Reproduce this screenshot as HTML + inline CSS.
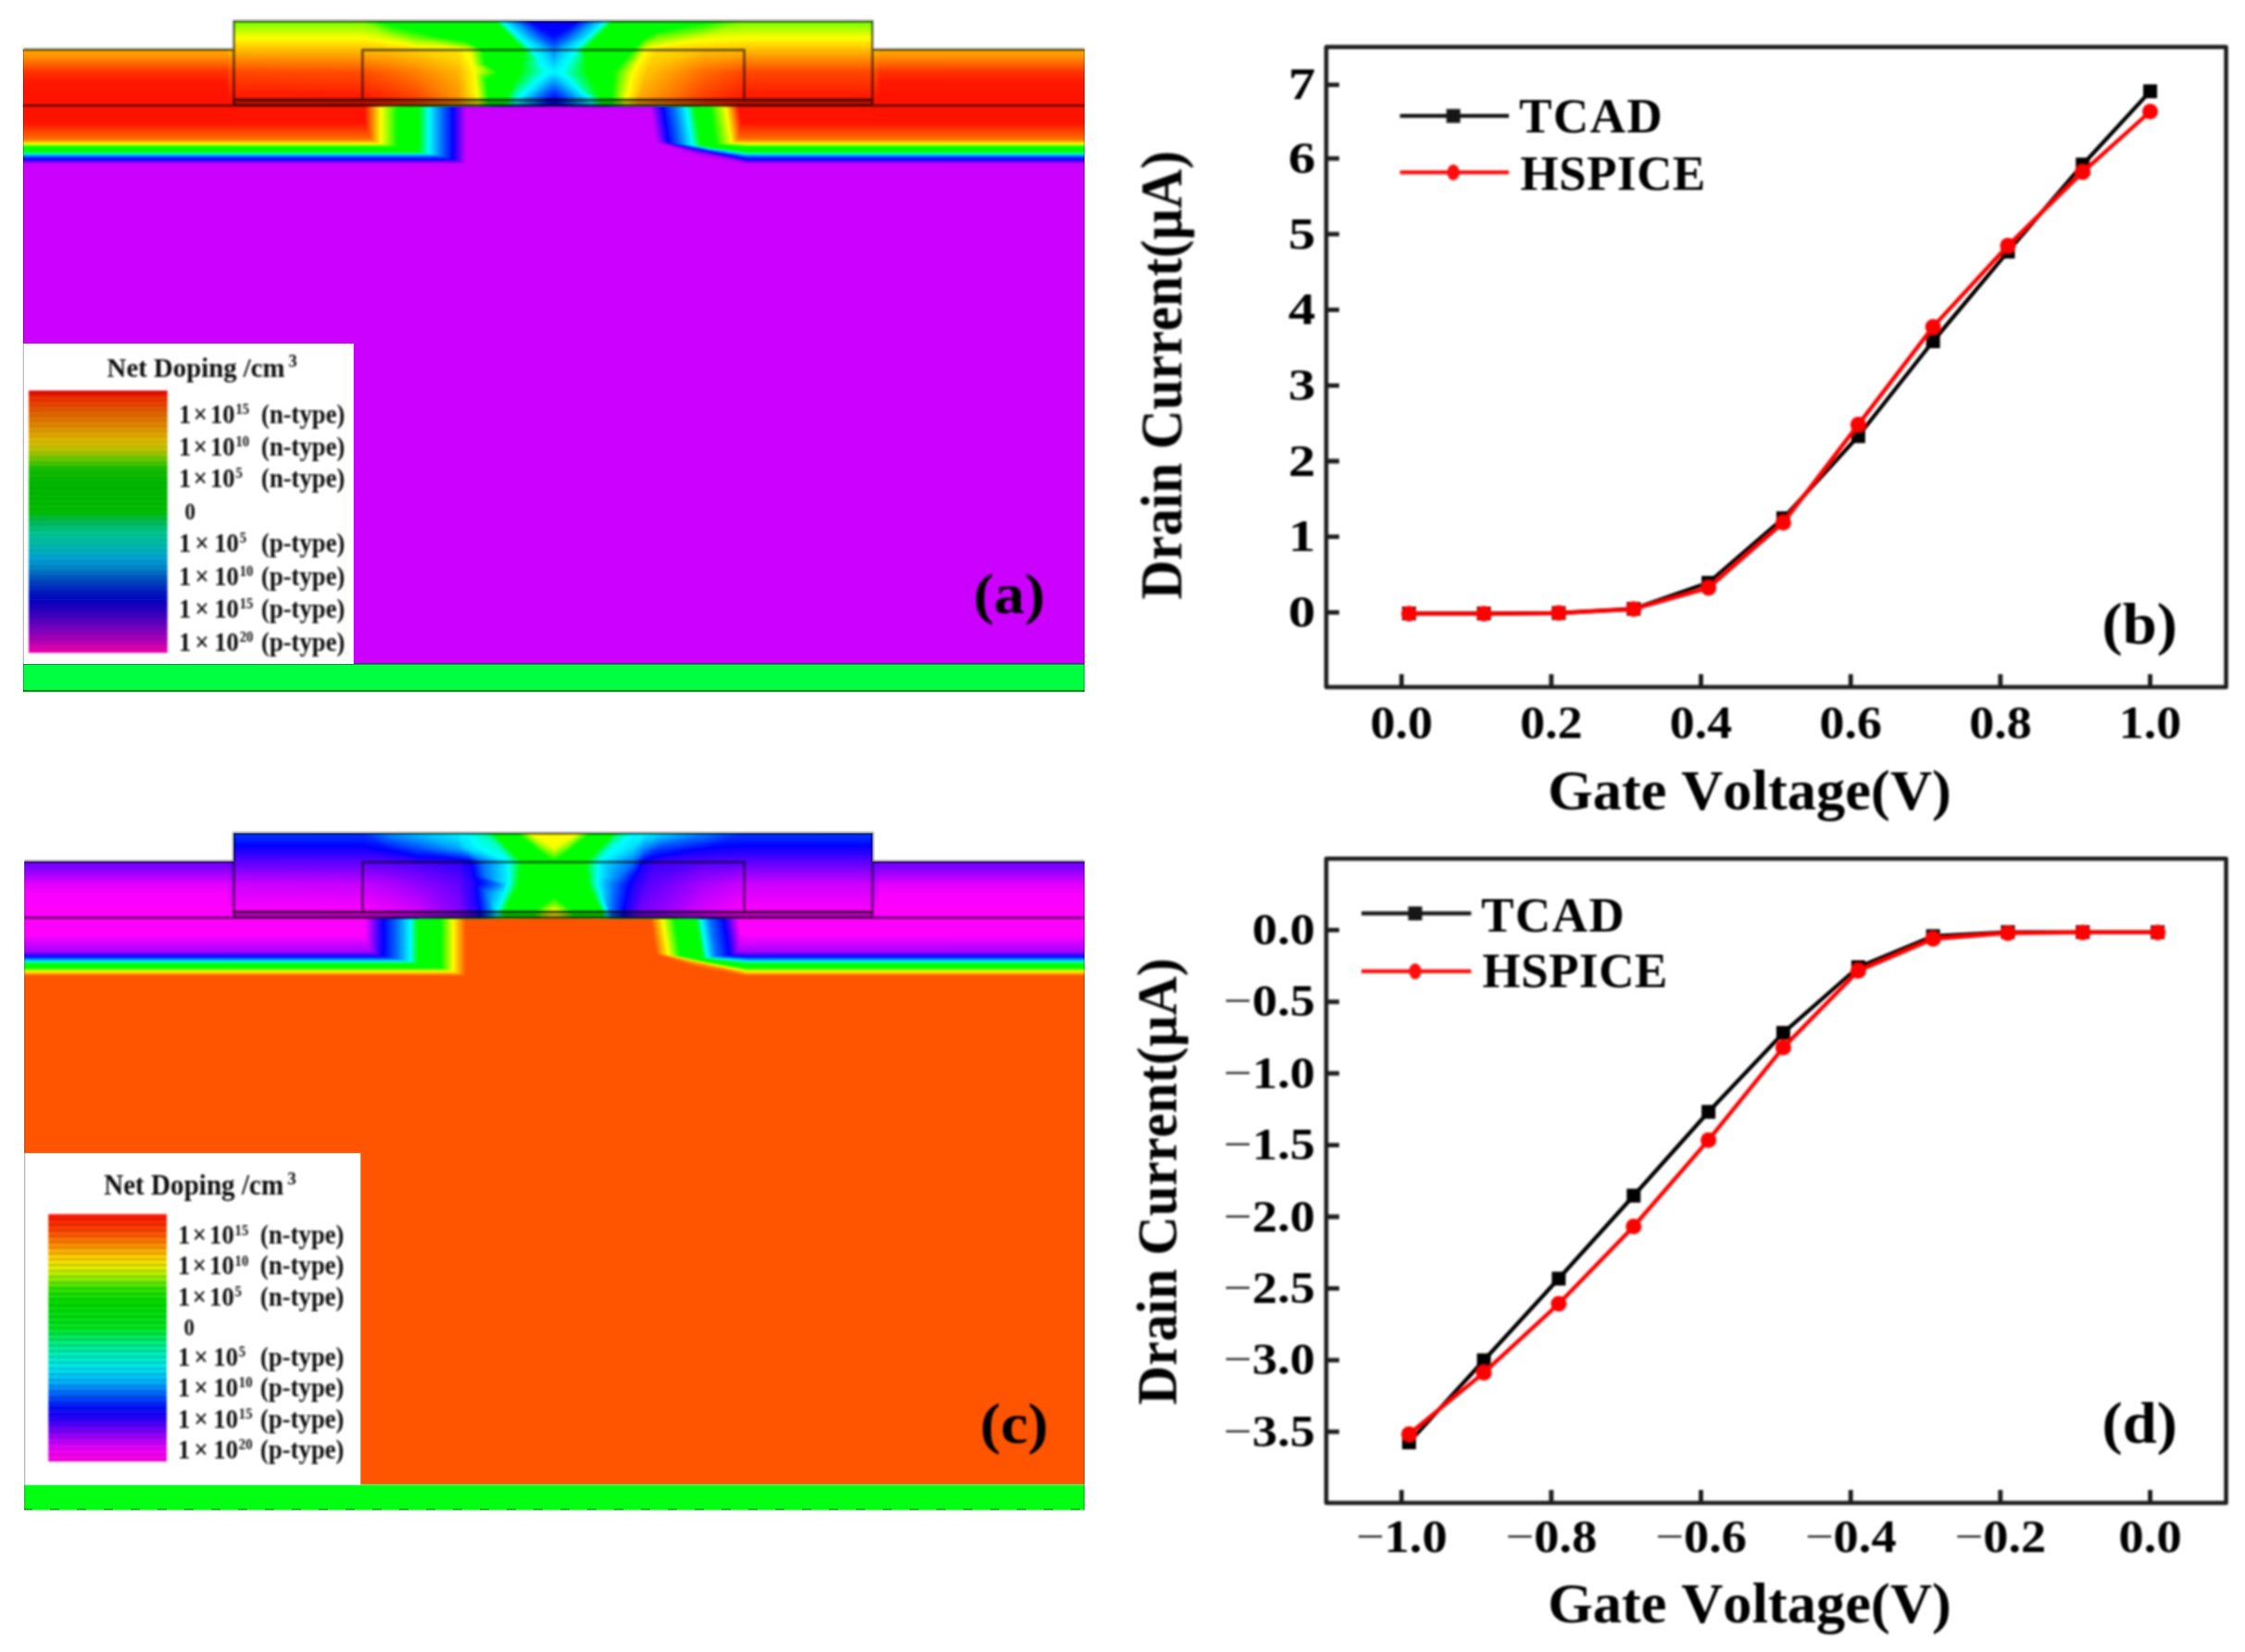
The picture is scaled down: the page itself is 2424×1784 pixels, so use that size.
<!DOCTYPE html><html><head><meta charset="utf-8"><title>Figure</title><style>html,body{margin:0;padding:0;background:#fff}svg{display:block}text{font-family:"Liberation Serif",serif;font-weight:bold;font-kerning:none}</style></head><body><svg width="2424" height="1784" viewBox="0 0 2424 1784"><defs><filter id="cmA" filterUnits="userSpaceOnUse" x="0" y="0" width="1200" height="200" color-interpolation-filters="sRGB"><feComponentTransfer><feFuncR type="table" tableValues="1.000 1.000 1.000 1.000 1.000 1.000 1.000 1.000 1.000 1.000 1.000 1.000 1.000 1.000 1.000 1.000 1.000 0.929 0.857 0.786 0.714 0.643 0.571 0.500 0.429 0.357 0.286 0.214 0.143 0.071 0.000 0.000 0.000 0.000 0.000 0.000 0.000 0.000 0.000 0.000 0.000 0.000 0.000 0.000 0.000 0.000 0.000 0.000 0.000 0.000 0.000 0.000 0.000 0.000 0.000 0.000 0.000 0.000 0.000 0.000 0.000 0.000 0.000 0.000 0.000 0.000 0.000 0.000 0.000 0.000 0.000 0.000 0.000 0.000 0.000 0.000 0.000 0.000 0.000 0.000 0.000 0.000 0.000 0.000 0.000 0.000 0.000 0.000 0.062 0.123 0.185 0.246 0.308 0.369 0.431 0.492 0.554 0.615 0.677 0.738 0.800"/><feFuncG type="table" tableValues="0.078 0.136 0.194 0.251 0.309 0.366 0.424 0.482 0.539 0.597 0.654 0.712 0.770 0.827 0.885 0.942 1.000 1.000 1.000 1.000 1.000 1.000 1.000 1.000 1.000 1.000 1.000 1.000 1.000 1.000 1.000 1.000 1.000 1.000 1.000 1.000 1.000 1.000 1.000 1.000 1.000 1.000 1.000 1.000 1.000 1.000 1.000 1.000 1.000 1.000 1.000 1.000 1.000 1.000 1.000 1.000 1.000 1.000 1.000 1.000 1.000 1.000 1.000 1.000 1.000 0.957 0.913 0.870 0.826 0.783 0.739 0.696 0.652 0.609 0.565 0.522 0.478 0.435 0.391 0.348 0.304 0.261 0.217 0.174 0.130 0.087 0.043 0.000 0.000 0.000 0.000 0.000 0.000 0.000 0.000 0.000 0.000 0.000 0.000 0.000 0.000"/><feFuncB type="table" tableValues="0.000 0.000 0.000 0.000 0.000 0.000 0.000 0.000 0.000 0.000 0.000 0.000 0.000 0.000 0.000 0.000 0.000 0.000 0.000 0.000 0.000 0.000 0.000 0.000 0.000 0.000 0.000 0.000 0.000 0.000 0.000 0.000 0.000 0.000 0.000 0.000 0.000 0.000 0.000 0.000 0.000 0.000 0.000 0.000 0.000 0.000 0.000 0.000 0.000 0.000 0.000 0.000 0.000 0.000 0.000 0.000 0.000 0.125 0.250 0.375 0.500 0.625 0.750 0.875 1.000 1.000 1.000 1.000 1.000 1.000 1.000 1.000 1.000 1.000 1.000 1.000 1.000 1.000 1.000 1.000 1.000 1.000 1.000 1.000 1.000 1.000 1.000 1.000 1.000 1.000 1.000 1.000 1.000 1.000 1.000 1.000 1.000 1.000 1.000 1.000 1.000"/></feComponentTransfer><feGaussianBlur stdDeviation="1.1"/></filter><filter id="cmC" filterUnits="userSpaceOnUse" x="0" y="0" width="1200" height="200" color-interpolation-filters="sRGB"><feComponentTransfer><feFuncR type="table" tableValues="1.000 0.944 0.889 0.833 0.778 0.722 0.667 0.611 0.556 0.500 0.444 0.389 0.333 0.278 0.222 0.167 0.111 0.056 0.000 0.000 0.000 0.000 0.000 0.000 0.000 0.000 0.000 0.000 0.000 0.000 0.000 0.000 0.000 0.000 0.000 0.000 0.000 0.000 0.000 0.000 0.000 0.000 0.000 0.000 0.000 0.000 0.000 0.000 0.000 0.000 0.000 0.000 0.000 0.000 0.000 0.000 0.000 0.000 0.000 0.000 0.000 0.000 0.000 0.000 0.000 0.000 0.000 0.000 0.000 0.000 0.000 0.000 0.000 0.000 0.000 0.000 0.000 0.091 0.182 0.273 0.364 0.455 0.545 0.636 0.727 0.818 0.909 1.000 1.000 1.000 1.000 1.000 1.000 1.000 1.000 1.000 1.000 1.000 1.000 1.000 1.000"/><feFuncG type="table" tableValues="0.000 0.000 0.000 0.000 0.000 0.000 0.000 0.000 0.000 0.000 0.000 0.000 0.000 0.000 0.000 0.000 0.000 0.000 0.000 0.038 0.077 0.115 0.154 0.192 0.231 0.269 0.308 0.346 0.385 0.423 0.462 0.500 0.538 0.577 0.615 0.654 0.692 0.731 0.769 0.808 0.846 0.885 0.923 0.962 1.000 1.000 1.000 1.000 1.000 1.000 1.000 1.000 1.000 1.000 1.000 1.000 1.000 1.000 1.000 1.000 1.000 1.000 1.000 1.000 1.000 1.000 1.000 1.000 1.000 1.000 1.000 1.000 1.000 1.000 1.000 1.000 1.000 1.000 1.000 1.000 1.000 1.000 1.000 1.000 1.000 1.000 1.000 1.000 0.949 0.897 0.846 0.795 0.744 0.692 0.641 0.590 0.538 0.487 0.436 0.385 0.333"/><feFuncB type="table" tableValues="1.000 1.000 1.000 1.000 1.000 1.000 1.000 1.000 1.000 1.000 1.000 1.000 1.000 1.000 1.000 1.000 1.000 1.000 1.000 1.000 1.000 1.000 1.000 1.000 1.000 1.000 1.000 1.000 1.000 1.000 1.000 1.000 1.000 1.000 1.000 1.000 1.000 1.000 1.000 1.000 1.000 1.000 1.000 1.000 1.000 0.909 0.818 0.727 0.636 0.545 0.455 0.364 0.273 0.182 0.091 0.000 0.000 0.000 0.000 0.000 0.000 0.000 0.000 0.000 0.000 0.000 0.000 0.000 0.000 0.000 0.000 0.000 0.000 0.000 0.000 0.000 0.000 0.000 0.000 0.000 0.000 0.000 0.000 0.000 0.000 0.000 0.000 0.000 0.000 0.000 0.000 0.000 0.000 0.000 0.000 0.000 0.000 0.000 0.000 0.000 0.000"/></feComponentTransfer><feGaussianBlur stdDeviation="1.1"/></filter><linearGradient id="bw"><stop offset="0" stop-color="#000"/><stop offset="1" stop-color="#fff"/></linearGradient><linearGradient id="fslab" gradientUnits="userSpaceOnUse" x1="0" y1="48" x2="0" y2="114"><stop offset="0.0000" stop-color="#1b1b1b"/><stop offset="0.0833" stop-color="#1a1a1a"/><stop offset="0.1970" stop-color="#161616"/><stop offset="0.3333" stop-color="#0d0d0d"/><stop offset="0.4545" stop-color="#050505"/><stop offset="0.6061" stop-color="#010101"/><stop offset="0.7879" stop-color="#000000"/><stop offset="1.0000" stop-color="#000000"/></linearGradient><linearGradient id="fv" gradientUnits="userSpaceOnUse" x1="0" y1="113" x2="0" y2="186"><stop offset="0.0000" stop-color="#000000"/><stop offset="0.2740" stop-color="#000000"/><stop offset="0.5137" stop-color="#101010"/><stop offset="0.5822" stop-color="#292929"/><stop offset="0.6233" stop-color="#4c4c4c"/><stop offset="0.6781" stop-color="#808080"/><stop offset="0.7219" stop-color="#9e9e9e"/><stop offset="0.7603" stop-color="#c2c2c2"/><stop offset="0.8055" stop-color="#dedede"/><stop offset="0.8740" stop-color="#ffffff"/><stop offset="1.0000" stop-color="#ffffff"/></linearGradient><linearGradient id="fhl" gradientUnits="userSpaceOnUse" x1="19.0" y1="0" x2="600" y2="0"><stop offset="0.0000" stop-color="#000000"/><stop offset="0.6454" stop-color="#000000"/><stop offset="0.6747" stop-color="#292929"/><stop offset="0.6799" stop-color="#2e2e2e"/><stop offset="0.7057" stop-color="#4c4c4c"/><stop offset="0.7298" stop-color="#707070"/><stop offset="0.7453" stop-color="#8f8f8f"/><stop offset="0.7642" stop-color="#a3a3a3"/><stop offset="0.7866" stop-color="#c2c2c2"/><stop offset="0.8090" stop-color="#dedede"/><stop offset="0.8330" stop-color="#ffffff"/><stop offset="1.0000" stop-color="#ffffff"/></linearGradient><linearGradient id="fhr" gradientUnits="userSpaceOnUse" x1="600" y1="132" x2="1162.96" y2="43.11"><stop offset="0.0000" stop-color="#ffffff"/><stop offset="0.1820" stop-color="#ffffff"/><stop offset="0.2045" stop-color="#dedede"/><stop offset="0.2270" stop-color="#c2c2c2"/><stop offset="0.2487" stop-color="#a3a3a3"/><stop offset="0.2652" stop-color="#8f8f8f"/><stop offset="0.2773" stop-color="#707070"/><stop offset="0.2929" stop-color="#4c4c4c"/><stop offset="0.3189" stop-color="#2e2e2e"/><stop offset="0.3224" stop-color="#292929"/><stop offset="0.3466" stop-color="#000000"/><stop offset="1.0000" stop-color="#000000"/></linearGradient><filter id="fblur1" filterUnits="userSpaceOnUse" x="600" y="100" width="300" height="100" color-interpolation-filters="sRGB"><feGaussianBlur stdDeviation="0.8"/></filter><linearGradient id="m1" href="#bw" gradientUnits="userSpaceOnUse" x1="246.50" y1="77.40" x2="246.50" y2="-149.27"/><linearGradient id="m2" href="#bw" gradientUnits="userSpaceOnUse" x1="246.50" y1="77.40" x2="246.50" y2="-149.27"/><linearGradient id="m3" href="#bw" gradientUnits="userSpaceOnUse" x1="246.50" y1="86.20" x2="246.50" y2="-193.80"/><linearGradient id="m4" href="#bw" gradientUnits="userSpaceOnUse" x1="246.50" y1="86.20" x2="246.50" y2="-193.80"/><linearGradient id="m5" href="#bw" gradientUnits="userSpaceOnUse" x1="246.50" y1="88.50" x2="246.50" y2="-211.50"/><linearGradient id="m6" href="#bw" gradientUnits="userSpaceOnUse" x1="246.50" y1="88.50" x2="246.50" y2="-211.50"/><linearGradient id="m7" href="#bw" gradientUnits="userSpaceOnUse" x1="246.50" y1="88.50" x2="246.50" y2="-211.50"/><linearGradient id="m8" href="#bw" gradientUnits="userSpaceOnUse" x1="246.50" y1="88.50" x2="246.50" y2="-211.50"/><linearGradient id="m9" href="#bw" gradientUnits="userSpaceOnUse" x1="246.50" y1="107.50" x2="246.50" y2="-735.36"/><linearGradient id="m10" href="#bw" gradientUnits="userSpaceOnUse" x1="246.50" y1="107.50" x2="246.50" y2="-735.36"/><linearGradient id="m11" href="#bw" gradientUnits="userSpaceOnUse" x1="246.50" y1="107.50" x2="246.50" y2="-735.36"/><linearGradient id="m12" href="#bw" gradientUnits="userSpaceOnUse" x1="246.50" y1="107.50" x2="246.50" y2="-735.36"/><linearGradient id="m13" href="#bw" gradientUnits="userSpaceOnUse" x1="252.50" y1="77.40" x2="252.50" y2="-149.27"/><linearGradient id="m14" href="#bw" gradientUnits="userSpaceOnUse" x1="252.50" y1="77.40" x2="252.50" y2="-149.27"/><linearGradient id="m15" href="#bw" gradientUnits="userSpaceOnUse" x1="252.50" y1="86.20" x2="252.50" y2="-193.80"/><linearGradient id="m16" href="#bw" gradientUnits="userSpaceOnUse" x1="252.50" y1="86.20" x2="252.50" y2="-193.80"/><linearGradient id="m17" href="#bw" gradientUnits="userSpaceOnUse" x1="252.50" y1="90.80" x2="252.50" y2="-229.20"/><linearGradient id="m18" href="#bw" gradientUnits="userSpaceOnUse" x1="252.25" y1="88.50" x2="254.41" y2="-211.49"/><linearGradient id="m19" href="#bw" gradientUnits="userSpaceOnUse" x1="252.35" y1="89.73" x2="254.81" y2="-230.25"/><linearGradient id="m20" href="#bw" gradientUnits="userSpaceOnUse" x1="252.30" y1="88.50" x2="255.54" y2="-211.47"/><linearGradient id="m21" href="#bw" gradientUnits="userSpaceOnUse" x1="251.82" y1="103.79" x2="271.38" y2="-633.19"/><linearGradient id="m22" href="#bw" gradientUnits="userSpaceOnUse" x1="251.85" y1="107.49" x2="270.48" y2="-734.96"/><linearGradient id="m23" href="#bw" gradientUnits="userSpaceOnUse" x1="252.14" y1="104.81" x2="266.40" y2="-632.42"/><linearGradient id="m24" href="#bw" gradientUnits="userSpaceOnUse" x1="252.50" y1="107.50" x2="252.50" y2="-735.36"/><linearGradient id="m25" href="#bw" gradientUnits="userSpaceOnUse" x1="315.13" y1="17.00" x2="632.91" y2="17.00"/><linearGradient id="m26" href="#bw" gradientUnits="userSpaceOnUse" x1="315.13" y1="17.00" x2="632.91" y2="17.00"/><linearGradient id="m27" href="#bw" gradientUnits="userSpaceOnUse" x1="381.68" y1="48.43" x2="422.17" y2="-57.53"/><linearGradient id="m28" href="#bw" gradientUnits="userSpaceOnUse" x1="381.03" y1="75.35" x2="424.24" y2="-142.76"/><linearGradient id="m29" href="#bw" gradientUnits="userSpaceOnUse" x1="385.80" y1="72.02" x2="419.73" y2="-122.05"/><linearGradient id="m30" href="#bw" gradientUnits="userSpaceOnUse" x1="389.14" y1="86.09" x2="402.82" y2="-193.24"/><linearGradient id="m31" href="#bw" gradientUnits="userSpaceOnUse" x1="388.67" y1="96.29" x2="412.41" y2="-271.41"/><linearGradient id="m32" href="#bw" gradientUnits="userSpaceOnUse" x1="386.68" y1="90.18" x2="427.75" y2="-224.46"/><linearGradient id="m33" href="#bw" gradientUnits="userSpaceOnUse" x1="387.87" y1="93.47" x2="442.24" y2="-267.57"/><linearGradient id="m34" href="#bw" gradientUnits="userSpaceOnUse" x1="388.00" y1="90.23" x2="440.24" y2="-221.00"/><linearGradient id="m35" href="#bw" gradientUnits="userSpaceOnUse" x1="382.66" y1="102.30" x2="601.21" y2="-505.11"/><linearGradient id="m36" href="#bw" gradientUnits="userSpaceOnUse" x1="381.88" y1="104.02" x2="619.83" y2="-546.43"/><linearGradient id="m37" href="#bw" gradientUnits="userSpaceOnUse" x1="385.30" y1="103.92" x2="594.53" y2="-510.92"/><linearGradient id="m38" href="#bw" gradientUnits="userSpaceOnUse" x1="385.33" y1="105.62" x2="593.60" y2="-567.43"/><linearGradient id="m39" href="#bw" gradientUnits="userSpaceOnUse" x1="391.40" y1="107.50" x2="2774.73" y2="107.50"/><linearGradient id="m40" href="#bw" gradientUnits="userSpaceOnUse" x1="391.40" y1="107.50" x2="2774.73" y2="107.50"/><linearGradient id="m41" href="#bw" gradientUnits="userSpaceOnUse" x1="222.00" y1="17.00" x2="822.00" y2="17.00"/><linearGradient id="m42" href="#bw" gradientUnits="userSpaceOnUse" x1="222.00" y1="17.00" x2="822.00" y2="17.00"/><linearGradient id="m43" href="#bw" gradientUnits="userSpaceOnUse" x1="411.02" y1="64.20" x2="438.23" y2="-60.64"/><linearGradient id="m44" href="#bw" gradientUnits="userSpaceOnUse" x1="410.81" y1="60.84" x2="438.66" y2="-53.83"/><linearGradient id="m45" href="#bw" gradientUnits="userSpaceOnUse" x1="415.09" y1="61.02" x2="440.91" y2="-49.62"/><linearGradient id="m46" href="#bw" gradientUnits="userSpaceOnUse" x1="417.48" y1="77.83" x2="430.75" y2="-121.28"/><linearGradient id="m47" href="#bw" gradientUnits="userSpaceOnUse" x1="412.54" y1="105.28" x2="474.70" y2="-322.04"/><linearGradient id="m48" href="#bw" gradientUnits="userSpaceOnUse" x1="411.28" y1="96.52" x2="483.96" y2="-257.80"/><linearGradient id="m49" href="#bw" gradientUnits="userSpaceOnUse" x1="412.34" y1="101.60" x2="512.25" y2="-310.54"/><linearGradient id="m50" href="#bw" gradientUnits="userSpaceOnUse" x1="413.43" y1="96.69" x2="499.13" y2="-251.45"/><linearGradient id="m51" href="#bw" gradientUnits="userSpaceOnUse" x1="406.77" y1="108.27" x2="647.33" y2="-442.15"/><linearGradient id="m52" href="#bw" gradientUnits="userSpaceOnUse" x1="405.99" y1="109.50" x2="660.80" y2="-463.17"/><linearGradient id="m53" href="#bw" gradientUnits="userSpaceOnUse" x1="409.77" y1="110.06" x2="645.83" y2="-445.13"/><linearGradient id="m54" href="#bw" gradientUnits="userSpaceOnUse" x1="409.53" y1="111.42" x2="651.01" y2="-475.22"/><linearGradient id="m55" href="#bw" gradientUnits="userSpaceOnUse" x1="400.00" y1="107.50" x2="2066.67" y2="107.50"/><linearGradient id="m56" href="#bw" gradientUnits="userSpaceOnUse" x1="400.00" y1="107.50" x2="2066.67" y2="107.50"/><linearGradient id="m57" href="#bw" gradientUnits="userSpaceOnUse" x1="165.00" y1="17.00" x2="915.00" y2="17.00"/><linearGradient id="m58" href="#bw" gradientUnits="userSpaceOnUse" x1="165.00" y1="17.00" x2="915.00" y2="17.00"/><linearGradient id="m59" href="#bw" gradientUnits="userSpaceOnUse" x1="436.07" y1="84.44" x2="472.72" y2="-77.25"/><linearGradient id="m60" href="#bw" gradientUnits="userSpaceOnUse" x1="437.84" y1="69.51" x2="469.85" y2="-52.89"/><linearGradient id="m61" href="#bw" gradientUnits="userSpaceOnUse" x1="447.47" y1="57.59" x2="457.58" y2="-12.76"/><linearGradient id="m62" href="#bw" gradientUnits="userSpaceOnUse" x1="448.87" y1="69.12" x2="453.40" y2="-47.37"/><linearGradient id="m63" href="#bw" gradientUnits="userSpaceOnUse" x1="430.64" y1="138.72" x2="579.59" y2="-512.95"/><linearGradient id="m64" href="#bw" gradientUnits="userSpaceOnUse" x1="435.51" y1="106.75" x2="546.98" y2="-298.99"/><linearGradient id="m65" href="#bw" gradientUnits="userSpaceOnUse" x1="426.71" y1="123.94" x2="676.25" y2="-454.03"/><linearGradient id="m66" href="#bw" gradientUnits="userSpaceOnUse" x1="437.61" y1="106.52" x2="570.41" y2="-284.77"/><linearGradient id="m67" href="#bw" gradientUnits="userSpaceOnUse" x1="405.91" y1="126.04" x2="993.75" y2="-514.46"/><linearGradient id="m68" href="#bw" gradientUnits="userSpaceOnUse" x1="428.50" y1="114.51" x2="715.15" y2="-372.25"/><linearGradient id="m69" href="#bw" gradientUnits="userSpaceOnUse" x1="413.01" y1="120.89" x2="1002.01" y2="-434.77"/><linearGradient id="m70" href="#bw" gradientUnits="userSpaceOnUse" x1="429.91" y1="111.07" x2="749.80" y2="-288.18"/><linearGradient id="m71" href="#bw" gradientUnits="userSpaceOnUse" x1="425.45" y1="107.50" x2="1243.64" y2="107.50"/><linearGradient id="m72" href="#bw" gradientUnits="userSpaceOnUse" x1="425.45" y1="107.50" x2="1243.64" y2="107.50"/><linearGradient id="m73" href="#bw" gradientUnits="userSpaceOnUse" x1="495.00" y1="210.00" x2="495.00" y2="-215.00"/><linearGradient id="m74" href="#bw" gradientUnits="userSpaceOnUse" x1="457.61" y1="59.66" x2="542.59" y2="-23.66"/><linearGradient id="m75" href="#bw" gradientUnits="userSpaceOnUse" x1="489.17" y1="57.22" x2="506.32" y2="6.58"/><linearGradient id="m76" href="#bw" gradientUnits="userSpaceOnUse" x1="491.69" y1="63.95" x2="501.42" y2="-6.50"/><linearGradient id="m77" href="#bw" gradientUnits="userSpaceOnUse" x1="429.26" y1="79.20" x2="882.64" y2="-94.59"/><linearGradient id="m78" href="#bw" gradientUnits="userSpaceOnUse" x1="453.08" y1="76.98" x2="742.17" y2="-81.53"/><linearGradient id="m79" href="#bw" gradientUnits="userSpaceOnUse" x1="456.91" y1="87.08" x2="769.98" y2="-53.28"/><linearGradient id="m80" href="#bw" gradientUnits="userSpaceOnUse" x1="460.66" y1="88.03" x2="742.88" y2="-60.14"/><linearGradient id="m81" href="#bw" gradientUnits="userSpaceOnUse" x1="455.40" y1="78.42" x2="815.36" y2="74.61"/><linearGradient id="m82" href="#bw" gradientUnits="userSpaceOnUse" x1="462.34" y1="86.81" x2="759.22" y2="6.68"/><linearGradient id="m83" href="#bw" gradientUnits="userSpaceOnUse" x1="462.72" y1="90.38" x2="775.47" y2="47.97"/><linearGradient id="m84" href="#bw" gradientUnits="userSpaceOnUse" x1="467.64" y1="92.49" x2="732.71" y2="29.59"/><linearGradient id="m85" href="#bw" gradientUnits="userSpaceOnUse" x1="471.20" y1="107.50" x2="751.20" y2="107.50"/><linearGradient id="m86" href="#bw" gradientUnits="userSpaceOnUse" x1="471.20" y1="107.50" x2="751.20" y2="107.50"/><linearGradient id="m87" href="#bw" gradientUnits="userSpaceOnUse" x1="285.00" y1="17.00" x2="785.00" y2="17.00"/><linearGradient id="m88" href="#bw" gradientUnits="userSpaceOnUse" x1="285.00" y1="17.00" x2="785.00" y2="17.00"/><linearGradient id="m89" href="#bw" gradientUnits="userSpaceOnUse" x1="366.18" y1="129.16" x2="681.68" y2="-112.11"/><linearGradient id="m90" href="#bw" gradientUnits="userSpaceOnUse" x1="414.77" y1="92.00" x2="619.84" y2="-64.82"/><linearGradient id="m91" href="#bw" gradientUnits="userSpaceOnUse" x1="495.37" y1="74.04" x2="519.44" y2="-11.07"/><linearGradient id="m92" href="#bw" gradientUnits="userSpaceOnUse" x1="496.27" y1="57.32" x2="518.10" y2="14.03"/><linearGradient id="m93" href="#bw" gradientUnits="userSpaceOnUse" x1="489.97" y1="56.25" x2="596.01" y2="43.00"/><linearGradient id="m94" href="#bw" gradientUnits="userSpaceOnUse" x1="492.10" y1="57.30" x2="585.64" y2="37.90"/><linearGradient id="m95" href="#bw" gradientUnits="userSpaceOnUse" x1="506.74" y1="76.86" x2="530.76" y2="34.84"/><linearGradient id="m96" href="#bw" gradientUnits="userSpaceOnUse" x1="484.95" y1="79.42" x2="642.42" y2="21.77"/><linearGradient id="m97" href="#bw" gradientUnits="userSpaceOnUse" x1="505.15" y1="65.25" x2="554.20" y2="144.95"/><linearGradient id="m98" href="#bw" gradientUnits="userSpaceOnUse" x1="499.38" y1="78.14" x2="584.48" y2="77.24"/><linearGradient id="m99" href="#bw" gradientUnits="userSpaceOnUse" x1="499.73" y1="87.86" x2="583.21" y2="76.21"/><linearGradient id="m100" href="#bw" gradientUnits="userSpaceOnUse" x1="499.62" y1="87.83" x2="583.78" y2="76.41"/><linearGradient id="m101" href="#bw" gradientUnits="userSpaceOnUse" x1="502.29" y1="107.50" x2="588.00" y2="107.50"/><linearGradient id="m102" href="#bw" gradientUnits="userSpaceOnUse" x1="502.29" y1="107.50" x2="588.00" y2="107.50"/><linearGradient id="m103" href="#bw" gradientUnits="userSpaceOnUse" x1="365.50" y1="17.00" x2="690.50" y2="17.00"/><linearGradient id="m104" href="#bw" gradientUnits="userSpaceOnUse" x1="365.50" y1="17.00" x2="690.50" y2="17.00"/><linearGradient id="m105" href="#bw" gradientUnits="userSpaceOnUse" x1="467.73" y1="92.52" x2="570.49" y2="-58.61"/><linearGradient id="m106" href="#bw" gradientUnits="userSpaceOnUse" x1="355.01" y1="258.28" x2="702.82" y2="-253.20"/><linearGradient id="m107" href="#bw" gradientUnits="userSpaceOnUse" x1="467.46" y1="188.01" x2="582.32" y2="-148.38"/><linearGradient id="m108" href="#bw" gradientUnits="userSpaceOnUse" x1="503.86" y1="72.31" x2="535.99" y2="-1.13"/><linearGradient id="m109" href="#bw" gradientUnits="userSpaceOnUse" x1="462.00" y1="54.00" x2="662.00" y2="54.00"/><linearGradient id="m110" href="#bw" gradientUnits="userSpaceOnUse" x1="467.47" y1="60.82" x2="649.24" y2="38.09"/><linearGradient id="m111" href="#bw" gradientUnits="userSpaceOnUse" x1="468.62" y1="70.00" x2="653.23" y2="70.00"/><linearGradient id="m112" href="#bw" gradientUnits="userSpaceOnUse" x1="518.32" y1="79.94" x2="537.25" y2="46.80"/><linearGradient id="m113" href="#bw" gradientUnits="userSpaceOnUse" x1="518.20" y1="69.95" x2="584.20" y2="96.79"/><linearGradient id="m114" href="#bw" gradientUnits="userSpaceOnUse" x1="525.48" y1="57.66" x2="567.20" y2="125.46"/><linearGradient id="m115" href="#bw" gradientUnits="userSpaceOnUse" x1="485.90" y1="70.10" x2="616.23" y2="123.11"/><linearGradient id="m116" href="#bw" gradientUnits="userSpaceOnUse" x1="506.89" y1="88.53" x2="567.25" y2="80.10"/><linearGradient id="m117" href="#bw" gradientUnits="userSpaceOnUse" x1="509.54" y1="107.50" x2="571.08" y2="107.50"/><linearGradient id="m118" href="#bw" gradientUnits="userSpaceOnUse" x1="509.54" y1="107.50" x2="571.08" y2="107.50"/><linearGradient id="m119" href="#bw" gradientUnits="userSpaceOnUse" x1="478.00" y1="17.00" x2="578.00" y2="17.00"/><linearGradient id="m120" href="#bw" gradientUnits="userSpaceOnUse" x1="478.00" y1="17.00" x2="578.00" y2="17.00"/><linearGradient id="m121" href="#bw" gradientUnits="userSpaceOnUse" x1="503.00" y1="48.00" x2="553.00" y2="-2.00"/><linearGradient id="m122" href="#bw" gradientUnits="userSpaceOnUse" x1="499.51" y1="50.48" x2="556.49" y2="-4.48"/><linearGradient id="m123" href="#bw" gradientUnits="userSpaceOnUse" x1="514.70" y1="65.30" x2="569.70" y2="10.30"/><linearGradient id="m124" href="#bw" gradientUnits="userSpaceOnUse" x1="505.13" y1="69.69" x2="580.93" y2="5.14"/><linearGradient id="m125" href="#bw" gradientUnits="userSpaceOnUse" x1="493.29" y1="44.88" x2="620.52" y2="66.09"/><linearGradient id="m126" href="#bw" gradientUnits="userSpaceOnUse" x1="500.59" y1="54.00" x2="610.85" y2="54.00"/><linearGradient id="m127" href="#bw" gradientUnits="userSpaceOnUse" x1="501.87" y1="62.31" x2="609.15" y2="80.19"/><linearGradient id="m128" href="#bw" gradientUnits="userSpaceOnUse" x1="505.00" y1="70.00" x2="605.00" y2="70.00"/><linearGradient id="m129" href="#bw" gradientUnits="userSpaceOnUse" x1="513.83" y1="60.63" x2="593.29" y2="101.03"/><linearGradient id="m130" href="#bw" gradientUnits="userSpaceOnUse" x1="513.41" y1="63.93" x2="593.85" y2="96.65"/><linearGradient id="m131" href="#bw" gradientUnits="userSpaceOnUse" x1="512.72" y1="69.71" x2="587.20" y2="107.59"/><linearGradient id="m132" href="#bw" gradientUnits="userSpaceOnUse" x1="516.36" y1="74.46" x2="582.37" y2="101.30"/><linearGradient id="m133" href="#bw" gradientUnits="userSpaceOnUse" x1="502.92" y1="107.50" x2="579.85" y2="107.50"/><linearGradient id="m134" href="#bw" gradientUnits="userSpaceOnUse" x1="502.92" y1="107.50" x2="579.85" y2="107.50"/><linearGradient id="m135" href="#bw" gradientUnits="userSpaceOnUse" x1="478.00" y1="17.00" x2="578.00" y2="17.00"/><linearGradient id="m136" href="#bw" gradientUnits="userSpaceOnUse" x1="478.00" y1="17.00" x2="578.00" y2="17.00"/><linearGradient id="m137" href="#bw" gradientUnits="userSpaceOnUse" x1="507.60" y1="50.95" x2="554.74" y2="1.04"/><linearGradient id="m138" href="#bw" gradientUnits="userSpaceOnUse" x1="502.50" y1="54.50" x2="558.75" y2="-1.75"/><linearGradient id="m139" href="#bw" gradientUnits="userSpaceOnUse" x1="521.67" y1="71.43" x2="574.05" y2="15.31"/><linearGradient id="m140" href="#bw" gradientUnits="userSpaceOnUse" x1="516.00" y1="75.00" x2="578.50" y2="12.50"/><linearGradient id="m141" href="#bw" gradientUnits="userSpaceOnUse" x1="514.66" y1="85.46" x2="604.55" y2="29.28"/><linearGradient id="m142" href="#bw" gradientUnits="userSpaceOnUse" x1="410.62" y1="28.27" x2="686.30" y2="74.22"/><linearGradient id="m143" href="#bw" gradientUnits="userSpaceOnUse" x1="448.24" y1="141.31" x2="651.98" y2="13.97"/><linearGradient id="m144" href="#bw" gradientUnits="userSpaceOnUse" x1="364.82" y1="37.08" x2="717.52" y2="95.86"/><linearGradient id="m145" href="#bw" gradientUnits="userSpaceOnUse" x1="467.74" y1="-23.17" x2="634.28" y2="157.49"/><linearGradient id="m146" href="#bw" gradientUnits="userSpaceOnUse" x1="425.34" y1="9.02" x2="667.59" y2="132.20"/><linearGradient id="m147" href="#bw" gradientUnits="userSpaceOnUse" x1="478.50" y1="0.92" x2="618.56" y2="152.85"/><linearGradient id="m148" href="#bw" gradientUnits="userSpaceOnUse" x1="490.19" y1="52.06" x2="609.37" y2="112.67"/><linearGradient id="m149" href="#bw" gradientUnits="userSpaceOnUse" x1="462.00" y1="107.50" x2="612.00" y2="107.50"/><linearGradient id="m150" href="#bw" gradientUnits="userSpaceOnUse" x1="462.00" y1="107.50" x2="612.00" y2="107.50"/><linearGradient id="m151" href="#bw" gradientUnits="userSpaceOnUse" x1="455.74" y1="17.00" x2="590.52" y2="17.00"/><linearGradient id="m152" href="#bw" gradientUnits="userSpaceOnUse" x1="455.74" y1="17.00" x2="590.52" y2="17.00"/><linearGradient id="m153" href="#bw" gradientUnits="userSpaceOnUse" x1="508.69" y1="65.00" x2="560.74" y2="-0.62"/><linearGradient id="m154" href="#bw" gradientUnits="userSpaceOnUse" x1="494.85" y1="72.92" x2="568.52" y2="-5.08"/><linearGradient id="m155" href="#bw" gradientUnits="userSpaceOnUse" x1="528.46" y1="86.47" x2="577.74" y2="13.86"/><linearGradient id="m156" href="#bw" gradientUnits="userSpaceOnUse" x1="485.51" y1="119.81" x2="601.90" y2="-4.89"/><linearGradient id="m157" href="#bw" gradientUnits="userSpaceOnUse" x1="479.60" y1="132.50" x2="628.66" y2="9.84"/><linearGradient id="m158" href="#bw" gradientUnits="userSpaceOnUse" x1="397.48" y1="164.95" x2="674.85" y2="-8.41"/><linearGradient id="m159" href="#bw" gradientUnits="userSpaceOnUse" x1="477.00" y1="192.46" x2="645.75" y2="1.12"/><linearGradient id="m160" href="#bw" gradientUnits="userSpaceOnUse" x1="32.73" y1="415.17" x2="895.65" y2="-124.16"/><linearGradient id="m161" href="#bw" gradientUnits="userSpaceOnUse" x1="237.17" y1="-304.73" x2="788.47" y2="293.29"/><linearGradient id="m162" href="#bw" gradientUnits="userSpaceOnUse" x1="557.92" y1="13.56" x2="616.96" y2="113.47"/><linearGradient id="m163" href="#bw" gradientUnits="userSpaceOnUse" x1="514.25" y1="13.25" x2="619.05" y2="126.92"/><linearGradient id="m164" href="#bw" gradientUnits="userSpaceOnUse" x1="551.73" y1="33.57" x2="611.74" y2="109.29"/><linearGradient id="m165" href="#bw" gradientUnits="userSpaceOnUse" x1="458.44" y1="107.50" x2="614.00" y2="107.50"/><linearGradient id="m166" href="#bw" gradientUnits="userSpaceOnUse" x1="458.44" y1="107.50" x2="614.00" y2="107.50"/><linearGradient id="m167" href="#bw" gradientUnits="userSpaceOnUse" x1="-1602.00" y1="17.00" x2="898.00" y2="17.00"/><linearGradient id="m168" href="#bw" gradientUnits="userSpaceOnUse" x1="-1602.00" y1="17.00" x2="898.00" y2="17.00"/><linearGradient id="m169" href="#bw" gradientUnits="userSpaceOnUse" x1="347.62" y1="685.87" x2="606.68" y2="-76.05"/><linearGradient id="m170" href="#bw" gradientUnits="userSpaceOnUse" x1="519.96" y1="107.76" x2="580.93" y2="10.33"/><linearGradient id="m171" href="#bw" gradientUnits="userSpaceOnUse" x1="540.53" y1="115.70" x2="596.12" y2="21.08"/><linearGradient id="m172" href="#bw" gradientUnits="userSpaceOnUse" x1="545.62" y1="99.08" x2="594.85" y2="25.23"/><linearGradient id="m173" href="#bw" gradientUnits="userSpaceOnUse" x1="512.46" y1="105.69" x2="623.23" y2="31.85"/><linearGradient id="m174" href="#bw" gradientUnits="userSpaceOnUse" x1="496.77" y1="120.03" x2="629.95" y2="25.70"/><linearGradient id="m175" href="#bw" gradientUnits="userSpaceOnUse" x1="515.70" y1="135.25" x2="633.74" y2="36.89"/><linearGradient id="m176" href="#bw" gradientUnits="userSpaceOnUse" x1="481.62" y1="201.11" x2="651.04" y2="3.46"/><linearGradient id="m177" href="#bw" gradientUnits="userSpaceOnUse" x1="565.12" y1="-5.75" x2="613.00" y2="124.09"/><linearGradient id="m178" href="#bw" gradientUnits="userSpaceOnUse" x1="563.07" y1="13.57" x2="616.81" y2="112.70"/><linearGradient id="m179" href="#bw" gradientUnits="userSpaceOnUse" x1="552.70" y1="15.27" x2="611.32" y2="117.41"/><linearGradient id="m180" href="#bw" gradientUnits="userSpaceOnUse" x1="556.48" y1="21.26" x2="614.76" y2="112.14"/><linearGradient id="m181" href="#bw" gradientUnits="userSpaceOnUse" x1="422.00" y1="107.50" x2="622.00" y2="107.50"/><linearGradient id="m182" href="#bw" gradientUnits="userSpaceOnUse" x1="422.00" y1="107.50" x2="622.00" y2="107.50"/><linearGradient id="m183" href="#bw" gradientUnits="userSpaceOnUse" x1="2798.00" y1="17.00" x2="298.00" y2="17.00"/><linearGradient id="m184" href="#bw" gradientUnits="userSpaceOnUse" x1="2798.00" y1="17.00" x2="298.00" y2="17.00"/><linearGradient id="m185" href="#bw" gradientUnits="userSpaceOnUse" x1="825.97" y1="693.49" x2="566.91" y2="-68.43"/><linearGradient id="m186" href="#bw" gradientUnits="userSpaceOnUse" x1="676.04" y1="107.76" x2="615.07" y2="10.33"/><linearGradient id="m187" href="#bw" gradientUnits="userSpaceOnUse" x1="645.80" y1="121.38" x2="590.22" y2="26.75"/><linearGradient id="m188" href="#bw" gradientUnits="userSpaceOnUse" x1="650.38" y1="99.08" x2="601.15" y2="25.23"/><linearGradient id="m189" href="#bw" gradientUnits="userSpaceOnUse" x1="681.08" y1="109.38" x2="570.31" y2="35.54"/><linearGradient id="m190" href="#bw" gradientUnits="userSpaceOnUse" x1="699.23" y1="120.03" x2="566.05" y2="25.70"/><linearGradient id="m191" href="#bw" gradientUnits="userSpaceOnUse" x1="678.66" y1="137.21" x2="560.62" y2="38.85"/><linearGradient id="m192" href="#bw" gradientUnits="userSpaceOnUse" x1="714.38" y1="201.11" x2="544.96" y2="3.46"/><linearGradient id="m193" href="#bw" gradientUnits="userSpaceOnUse" x1="629.12" y1="-6.40" x2="581.24" y2="123.45"/><linearGradient id="m194" href="#bw" gradientUnits="userSpaceOnUse" x1="632.93" y1="13.57" x2="579.19" y2="112.70"/><linearGradient id="m195" href="#bw" gradientUnits="userSpaceOnUse" x1="639.76" y1="13.24" x2="581.14" y2="115.38"/><linearGradient id="m196" href="#bw" gradientUnits="userSpaceOnUse" x1="639.52" y1="21.26" x2="581.24" y2="112.14"/><linearGradient id="m197" href="#bw" gradientUnits="userSpaceOnUse" x1="774.00" y1="107.50" x2="574.00" y2="107.50"/><linearGradient id="m198" href="#bw" gradientUnits="userSpaceOnUse" x1="774.00" y1="107.50" x2="574.00" y2="107.50"/><linearGradient id="m199" href="#bw" gradientUnits="userSpaceOnUse" x1="740.26" y1="17.00" x2="605.48" y2="17.00"/><linearGradient id="m200" href="#bw" gradientUnits="userSpaceOnUse" x1="740.26" y1="17.00" x2="605.48" y2="17.00"/><linearGradient id="m201" href="#bw" gradientUnits="userSpaceOnUse" x1="668.28" y1="80.09" x2="616.23" y2="14.47"/><linearGradient id="m202" href="#bw" gradientUnits="userSpaceOnUse" x1="701.15" y1="72.92" x2="627.48" y2="-5.08"/><linearGradient id="m203" href="#bw" gradientUnits="userSpaceOnUse" x1="650.43" y1="98.09" x2="601.14" y2="25.48"/><linearGradient id="m204" href="#bw" gradientUnits="userSpaceOnUse" x1="710.49" y1="119.81" x2="594.10" y2="-4.89"/><linearGradient id="m205" href="#bw" gradientUnits="userSpaceOnUse" x1="710.34" y1="139.86" x2="561.28" y2="17.20"/><linearGradient id="m206" href="#bw" gradientUnits="userSpaceOnUse" x1="798.52" y1="164.95" x2="521.15" y2="-8.41"/><linearGradient id="m207" href="#bw" gradientUnits="userSpaceOnUse" x1="713.93" y1="196.92" x2="545.19" y2="5.58"/><linearGradient id="m208" href="#bw" gradientUnits="userSpaceOnUse" x1="1163.27" y1="415.17" x2="300.35" y2="-124.16"/><linearGradient id="m209" href="#bw" gradientUnits="userSpaceOnUse" x1="955.59" y1="-307.72" x2="404.29" y2="290.30"/><linearGradient id="m210" href="#bw" gradientUnits="userSpaceOnUse" x1="638.08" y1="13.56" x2="579.04" y2="113.47"/><linearGradient id="m211" href="#bw" gradientUnits="userSpaceOnUse" x1="675.28" y1="7.28" x2="570.48" y2="120.96"/><linearGradient id="m212" href="#bw" gradientUnits="userSpaceOnUse" x1="644.27" y1="33.57" x2="584.26" y2="109.29"/><linearGradient id="m213" href="#bw" gradientUnits="userSpaceOnUse" x1="737.56" y1="107.50" x2="582.00" y2="107.50"/><linearGradient id="m214" href="#bw" gradientUnits="userSpaceOnUse" x1="737.56" y1="107.50" x2="582.00" y2="107.50"/><linearGradient id="m215" href="#bw" gradientUnits="userSpaceOnUse" x1="718.00" y1="17.00" x2="618.00" y2="17.00"/><linearGradient id="m216" href="#bw" gradientUnits="userSpaceOnUse" x1="718.00" y1="17.00" x2="618.00" y2="17.00"/><linearGradient id="m217" href="#bw" gradientUnits="userSpaceOnUse" x1="686.00" y1="55.00" x2="636.00" y2="5.00"/><linearGradient id="m218" href="#bw" gradientUnits="userSpaceOnUse" x1="687.94" y1="58.94" x2="634.91" y2="2.78"/><linearGradient id="m219" href="#bw" gradientUnits="userSpaceOnUse" x1="672.00" y1="76.00" x2="615.75" y2="19.75"/><linearGradient id="m220" href="#bw" gradientUnits="userSpaceOnUse" x1="673.24" y1="79.90" x2="615.05" y2="17.55"/><linearGradient id="m221" href="#bw" gradientUnits="userSpaceOnUse" x1="699.77" y1="44.15" x2="576.69" y2="59.54"/><linearGradient id="m222" href="#bw" gradientUnits="userSpaceOnUse" x1="747.56" y1="133.10" x2="549.81" y2="9.51"/><linearGradient id="m223" href="#bw" gradientUnits="userSpaceOnUse" x1="784.29" y1="48.34" x2="513.52" y2="82.18"/><linearGradient id="m224" href="#bw" gradientUnits="userSpaceOnUse" x1="772.08" y1="170.67" x2="520.39" y2="13.37"/><linearGradient id="m225" href="#bw" gradientUnits="userSpaceOnUse" x1="779.08" y1="-15.88" x2="508.64" y2="130.81"/><linearGradient id="m226" href="#bw" gradientUnits="userSpaceOnUse" x1="692.96" y1="-16.33" x2="557.08" y2="131.06"/><linearGradient id="m227" href="#bw" gradientUnits="userSpaceOnUse" x1="760.94" y1="6.67" x2="532.41" y2="130.62"/><linearGradient id="m228" href="#bw" gradientUnits="userSpaceOnUse" x1="658.78" y1="38.16" x2="589.87" y2="112.91"/><linearGradient id="m229" href="#bw" gradientUnits="userSpaceOnUse" x1="734.00" y1="107.50" x2="584.00" y2="107.50"/><linearGradient id="m230" href="#bw" gradientUnits="userSpaceOnUse" x1="734.00" y1="107.50" x2="584.00" y2="107.50"/><linearGradient id="m231" href="#bw" gradientUnits="userSpaceOnUse" x1="718.00" y1="17.00" x2="618.00" y2="17.00"/><linearGradient id="m232" href="#bw" gradientUnits="userSpaceOnUse" x1="718.00" y1="17.00" x2="618.00" y2="17.00"/><linearGradient id="m233" href="#bw" gradientUnits="userSpaceOnUse" x1="690.00" y1="51.00" x2="640.00" y2="1.00"/><linearGradient id="m234" href="#bw" gradientUnits="userSpaceOnUse" x1="696.49" y1="50.48" x2="639.51" y2="-4.48"/><linearGradient id="m235" href="#bw" gradientUnits="userSpaceOnUse" x1="675.80" y1="70.80" x2="620.80" y2="15.80"/><linearGradient id="m236" href="#bw" gradientUnits="userSpaceOnUse" x1="690.87" y1="69.69" x2="615.07" y2="5.14"/><linearGradient id="m237" href="#bw" gradientUnits="userSpaceOnUse" x1="703.73" y1="60.06" x2="573.86" y2="49.24"/><linearGradient id="m238" href="#bw" gradientUnits="userSpaceOnUse" x1="688.97" y1="46.75" x2="585.46" y2="59.69"/><linearGradient id="m239" href="#bw" gradientUnits="userSpaceOnUse" x1="691.47" y1="74.87" x2="587.06" y2="66.17"/><linearGradient id="m240" href="#bw" gradientUnits="userSpaceOnUse" x1="683.90" y1="63.64" x2="593.01" y2="75.00"/><linearGradient id="m241" href="#bw" gradientUnits="userSpaceOnUse" x1="681.29" y1="63.57" x2="596.84" y2="89.34"/><linearGradient id="m242" href="#bw" gradientUnits="userSpaceOnUse" x1="667.62" y1="59.76" x2="607.58" y2="92.33"/><linearGradient id="m243" href="#bw" gradientUnits="userSpaceOnUse" x1="678.15" y1="73.85" x2="607.06" y2="95.54"/><linearGradient id="m244" href="#bw" gradientUnits="userSpaceOnUse" x1="654.98" y1="76.97" x2="625.26" y2="93.09"/><linearGradient id="m245" href="#bw" gradientUnits="userSpaceOnUse" x1="671.54" y1="107.50" x2="633.08" y2="107.50"/><linearGradient id="m246" href="#bw" gradientUnits="userSpaceOnUse" x1="671.54" y1="107.50" x2="633.08" y2="107.50"/><linearGradient id="m247" href="#bw" gradientUnits="userSpaceOnUse" x1="793.00" y1="17.00" x2="543.00" y2="17.00"/><linearGradient id="m248" href="#bw" gradientUnits="userSpaceOnUse" x1="793.00" y1="17.00" x2="543.00" y2="17.00"/><linearGradient id="m249" href="#bw" gradientUnits="userSpaceOnUse" x1="714.73" y1="83.48" x2="621.27" y2="-37.48"/><linearGradient id="m250" href="#bw" gradientUnits="userSpaceOnUse" x1="776.35" y1="121.84" x2="564.19" y2="-102.79"/><linearGradient id="m251" href="#bw" gradientUnits="userSpaceOnUse" x1="717.64" y1="134.66" x2="583.64" y2="-71.12"/><linearGradient id="m252" href="#bw" gradientUnits="userSpaceOnUse" x1="705.92" y1="84.08" x2="648.62" y2="-26.12"/><linearGradient id="m253" href="#bw" gradientUnits="userSpaceOnUse" x1="713.57" y1="111.37" x2="561.08" y2="-22.05"/><linearGradient id="m254" href="#bw" gradientUnits="userSpaceOnUse" x1="721.36" y1="60.11" x2="550.75" y2="45.90"/><linearGradient id="m255" href="#bw" gradientUnits="userSpaceOnUse" x1="688.51" y1="106.61" x2="591.21" y2="21.47"/><linearGradient id="m256" href="#bw" gradientUnits="userSpaceOnUse" x1="699.22" y1="74.38" x2="577.00" y2="64.19"/><linearGradient id="m257" href="#bw" gradientUnits="userSpaceOnUse" x1="698.68" y1="81.57" x2="576.17" y2="73.27"/><linearGradient id="m258" href="#bw" gradientUnits="userSpaceOnUse" x1="685.39" y1="65.98" x2="593.79" y2="93.93"/><linearGradient id="m259" href="#bw" gradientUnits="userSpaceOnUse" x1="691.30" y1="88.91" x2="591.63" y2="82.15"/><linearGradient id="m260" href="#bw" gradientUnits="userSpaceOnUse" x1="663.57" y1="81.38" x2="628.38" y2="92.12"/><linearGradient id="m261" href="#bw" gradientUnits="userSpaceOnUse" x1="671.54" y1="107.50" x2="633.08" y2="107.50"/><linearGradient id="m262" href="#bw" gradientUnits="userSpaceOnUse" x1="671.54" y1="107.50" x2="633.08" y2="107.50"/><linearGradient id="m263" href="#bw" gradientUnits="userSpaceOnUse" x1="683.00" y1="210.00" x2="683.00" y2="-215.00"/><linearGradient id="m264" href="#bw" gradientUnits="userSpaceOnUse" x1="724.63" y1="54.62" x2="659.56" y2="-17.25"/><linearGradient id="m265" href="#bw" gradientUnits="userSpaceOnUse" x1="710.99" y1="68.87" x2="641.02" y2="-3.31"/><linearGradient id="m266" href="#bw" gradientUnits="userSpaceOnUse" x1="710.47" y1="54.39" x2="663.80" y2="7.96"/><linearGradient id="m267" href="#bw" gradientUnits="userSpaceOnUse" x1="704.54" y1="65.67" x2="632.74" y2="26.78"/><linearGradient id="m268" href="#bw" gradientUnits="userSpaceOnUse" x1="705.25" y1="73.47" x2="631.08" y2="8.57"/><linearGradient id="m269" href="#bw" gradientUnits="userSpaceOnUse" x1="699.37" y1="86.45" x2="598.13" y2="31.61"/><linearGradient id="m270" href="#bw" gradientUnits="userSpaceOnUse" x1="694.49" y1="92.30" x2="609.53" y2="17.96"/><linearGradient id="m271" href="#bw" gradientUnits="userSpaceOnUse" x1="704.60" y1="88.11" x2="562.60" y2="54.41"/><linearGradient id="m272" href="#bw" gradientUnits="userSpaceOnUse" x1="703.90" y1="80.84" x2="564.23" y2="71.37"/><linearGradient id="m273" href="#bw" gradientUnits="userSpaceOnUse" x1="701.31" y1="95.46" x2="568.47" y2="63.94"/><linearGradient id="m274" href="#bw" gradientUnits="userSpaceOnUse" x1="695.59" y1="88.31" x2="581.82" y2="80.60"/><linearGradient id="m275" href="#bw" gradientUnits="userSpaceOnUse" x1="694.29" y1="107.50" x2="580.00" y2="107.50"/><linearGradient id="m276" href="#bw" gradientUnits="userSpaceOnUse" x1="694.29" y1="107.50" x2="580.00" y2="107.50"/><linearGradient id="m277" href="#bw" gradientUnits="userSpaceOnUse" x1="1004.00" y1="17.00" x2="304.00" y2="17.00"/><linearGradient id="m278" href="#bw" gradientUnits="userSpaceOnUse" x1="1004.00" y1="17.00" x2="304.00" y2="17.00"/><linearGradient id="m279" href="#bw" gradientUnits="userSpaceOnUse" x1="706.39" y1="78.60" x2="682.78" y2="-47.76"/><linearGradient id="m280" href="#bw" gradientUnits="userSpaceOnUse" x1="725.32" y1="55.43" x2="688.85" y2="-21.79"/><linearGradient id="m281" href="#bw" gradientUnits="userSpaceOnUse" x1="707.09" y1="63.76" x2="671.32" y2="-12.88"/><linearGradient id="m282" href="#bw" gradientUnits="userSpaceOnUse" x1="717.21" y1="70.28" x2="687.17" y2="-55.90"/><linearGradient id="m283" href="#bw" gradientUnits="userSpaceOnUse" x1="765.27" y1="91.52" x2="332.31" y2="-143.00"/><linearGradient id="m284" href="#bw" gradientUnits="userSpaceOnUse" x1="745.79" y1="81.27" x2="480.66" y2="-120.74"/><linearGradient id="m285" href="#bw" gradientUnits="userSpaceOnUse" x1="739.17" y1="98.08" x2="415.18" y2="-77.41"/><linearGradient id="m286" href="#bw" gradientUnits="userSpaceOnUse" x1="732.45" y1="92.36" x2="488.84" y2="-86.54"/><linearGradient id="m287" href="#bw" gradientUnits="userSpaceOnUse" x1="739.80" y1="91.48" x2="384.79" y2="7.24"/><linearGradient id="m288" href="#bw" gradientUnits="userSpaceOnUse" x1="729.35" y1="93.39" x2="468.09" y2="-34.89"/><linearGradient id="m289" href="#bw" gradientUnits="userSpaceOnUse" x1="730.22" y1="97.65" x2="423.25" y2="24.81"/><linearGradient id="m290" href="#bw" gradientUnits="userSpaceOnUse" x1="718.40" y1="95.69" x2="521.39" y2="11.10"/><linearGradient id="m291" href="#bw" gradientUnits="userSpaceOnUse" x1="713.33" y1="107.50" x2="480.00" y2="107.50"/><linearGradient id="m292" href="#bw" gradientUnits="userSpaceOnUse" x1="713.33" y1="107.50" x2="480.00" y2="107.50"/><linearGradient id="m293" href="#bw" gradientUnits="userSpaceOnUse" x1="920.00" y1="17.00" x2="420.00" y2="17.00"/><linearGradient id="m294" href="#bw" gradientUnits="userSpaceOnUse" x1="920.00" y1="17.00" x2="420.00" y2="17.00"/><linearGradient id="m295" href="#bw" gradientUnits="userSpaceOnUse" x1="717.23" y1="61.30" x2="700.01" y2="-29.89"/><linearGradient id="m296" href="#bw" gradientUnits="userSpaceOnUse" x1="765.59" y1="59.67" x2="748.12" y2="-54.91"/><linearGradient id="m297" href="#bw" gradientUnits="userSpaceOnUse" x1="715.38" y1="71.07" x2="692.95" y2="-58.38"/><linearGradient id="m298" href="#bw" gradientUnits="userSpaceOnUse" x1="763.38" y1="84.29" x2="744.06" y2="-168.78"/><linearGradient id="m299" href="#bw" gradientUnits="userSpaceOnUse" x1="768.64" y1="205.49" x2="334.25" y2="-916.68"/><linearGradient id="m300" href="#bw" gradientUnits="userSpaceOnUse" x1="773.59" y1="97.78" x2="660.36" y2="-267.08"/><linearGradient id="m301" href="#bw" gradientUnits="userSpaceOnUse" x1="761.57" y1="147.77" x2="285.00" y2="-474.42"/><linearGradient id="m302" href="#bw" gradientUnits="userSpaceOnUse" x1="770.77" y1="97.83" x2="636.11" y2="-250.04"/><linearGradient id="m303" href="#bw" gradientUnits="userSpaceOnUse" x1="761.78" y1="139.97" x2="230.31" y2="-376.48"/><linearGradient id="m304" href="#bw" gradientUnits="userSpaceOnUse" x1="784.91" y1="107.61" x2="369.68" y2="-385.82"/><linearGradient id="m305" href="#bw" gradientUnits="userSpaceOnUse" x1="756.14" y1="143.30" x2="229.80" y2="-356.84"/><linearGradient id="m306" href="#bw" gradientUnits="userSpaceOnUse" x1="781.18" y1="109.45" x2="361.93" y2="-354.80"/><linearGradient id="m307" href="#bw" gradientUnits="userSpaceOnUse" x1="783.33" y1="107.50" x2="-150.00" y2="107.50"/><linearGradient id="m308" href="#bw" gradientUnits="userSpaceOnUse" x1="783.33" y1="107.50" x2="-150.00" y2="107.50"/><linearGradient id="m309" href="#bw" gradientUnits="userSpaceOnUse" x1="934.40" y1="17.00" x2="389.40" y2="17.00"/><linearGradient id="m310" href="#bw" gradientUnits="userSpaceOnUse" x1="934.40" y1="17.00" x2="389.40" y2="17.00"/><linearGradient id="m311" href="#bw" gradientUnits="userSpaceOnUse" x1="767.71" y1="58.86" x2="743.61" y2="-53.20"/><linearGradient id="m312" href="#bw" gradientUnits="userSpaceOnUse" x1="806.42" y1="77.25" x2="794.67" y2="-148.80"/><linearGradient id="m313" href="#bw" gradientUnits="userSpaceOnUse" x1="762.59" y1="84.39" x2="747.78" y2="-169.29"/><linearGradient id="m314" href="#bw" gradientUnits="userSpaceOnUse" x1="805.08" y1="86.15" x2="796.10" y2="-193.56"/><linearGradient id="m315" href="#bw" gradientUnits="userSpaceOnUse" x1="762.20" y1="101.90" x2="743.89" y2="-297.26"/><linearGradient id="m316" href="#bw" gradientUnits="userSpaceOnUse" x1="807.88" y1="87.96" x2="770.63" y2="-207.34"/><linearGradient id="m317" href="#bw" gradientUnits="userSpaceOnUse" x1="765.23" y1="101.12" x2="699.81" y2="-287.88"/><linearGradient id="m318" href="#bw" gradientUnits="userSpaceOnUse" x1="806.69" y1="87.97" x2="756.57" y2="-203.41"/><linearGradient id="m319" href="#bw" gradientUnits="userSpaceOnUse" x1="779.81" y1="119.00" x2="449.60" y2="-564.27"/><linearGradient id="m320" href="#bw" gradientUnits="userSpaceOnUse" x1="815.16" y1="101.91" x2="484.94" y2="-581.35"/><linearGradient id="m321" href="#bw" gradientUnits="userSpaceOnUse" x1="776.68" y1="120.51" x2="446.46" y2="-562.76"/><linearGradient id="m322" href="#bw" gradientUnits="userSpaceOnUse" x1="812.02" y1="103.43" x2="481.81" y2="-579.84"/><linearGradient id="m323" href="#bw" gradientUnits="userSpaceOnUse" x1="803.60" y1="107.50" x2="-940.40" y2="107.50"/><linearGradient id="m324" href="#bw" gradientUnits="userSpaceOnUse" x1="803.60" y1="107.50" x2="-940.40" y2="107.50"/><linearGradient id="m325" href="#bw" gradientUnits="userSpaceOnUse" x1="803.60" y1="77.40" x2="803.60" y2="-149.27"/><linearGradient id="m326" href="#bw" gradientUnits="userSpaceOnUse" x1="803.60" y1="77.40" x2="803.60" y2="-149.27"/><linearGradient id="m327" href="#bw" gradientUnits="userSpaceOnUse" x1="803.60" y1="86.20" x2="803.60" y2="-193.80"/><linearGradient id="m328" href="#bw" gradientUnits="userSpaceOnUse" x1="803.60" y1="86.20" x2="803.60" y2="-193.80"/><linearGradient id="m329" href="#bw" gradientUnits="userSpaceOnUse" x1="803.60" y1="88.50" x2="803.60" y2="-211.50"/><linearGradient id="m330" href="#bw" gradientUnits="userSpaceOnUse" x1="803.60" y1="88.50" x2="803.60" y2="-211.50"/><linearGradient id="m331" href="#bw" gradientUnits="userSpaceOnUse" x1="803.60" y1="88.50" x2="803.60" y2="-211.50"/><linearGradient id="m332" href="#bw" gradientUnits="userSpaceOnUse" x1="803.60" y1="88.50" x2="803.60" y2="-211.50"/><linearGradient id="m333" href="#bw" gradientUnits="userSpaceOnUse" x1="803.60" y1="107.50" x2="803.60" y2="-735.36"/><linearGradient id="m334" href="#bw" gradientUnits="userSpaceOnUse" x1="803.60" y1="107.50" x2="803.60" y2="-735.36"/><linearGradient id="m335" href="#bw" gradientUnits="userSpaceOnUse" x1="803.60" y1="107.50" x2="803.60" y2="-735.36"/><linearGradient id="m336" href="#bw" gradientUnits="userSpaceOnUse" x1="803.60" y1="107.50" x2="803.60" y2="-735.36"/><linearGradient id="m337" href="#bw" gradientUnits="userSpaceOnUse" x1="942.00" y1="77.40" x2="942.00" y2="-149.27"/><linearGradient id="m338" href="#bw" gradientUnits="userSpaceOnUse" x1="942.00" y1="77.40" x2="942.00" y2="-149.27"/><linearGradient id="m339" href="#bw" gradientUnits="userSpaceOnUse" x1="942.00" y1="86.20" x2="942.00" y2="-193.80"/><linearGradient id="m340" href="#bw" gradientUnits="userSpaceOnUse" x1="942.00" y1="86.20" x2="942.00" y2="-193.80"/><linearGradient id="m341" href="#bw" gradientUnits="userSpaceOnUse" x1="942.00" y1="88.50" x2="942.00" y2="-211.50"/><linearGradient id="m342" href="#bw" gradientUnits="userSpaceOnUse" x1="942.00" y1="88.50" x2="942.00" y2="-211.50"/><linearGradient id="m343" href="#bw" gradientUnits="userSpaceOnUse" x1="942.00" y1="88.50" x2="942.00" y2="-211.50"/><linearGradient id="m344" href="#bw" gradientUnits="userSpaceOnUse" x1="942.00" y1="88.50" x2="942.00" y2="-211.50"/><linearGradient id="m345" href="#bw" gradientUnits="userSpaceOnUse" x1="942.00" y1="107.50" x2="942.00" y2="-735.36"/><linearGradient id="m346" href="#bw" gradientUnits="userSpaceOnUse" x1="942.00" y1="107.50" x2="942.00" y2="-735.36"/><linearGradient id="m347" href="#bw" gradientUnits="userSpaceOnUse" x1="942.00" y1="107.50" x2="942.00" y2="-735.36"/><linearGradient id="m348" href="#bw" gradientUnits="userSpaceOnUse" x1="942.00" y1="107.50" x2="942.00" y2="-735.36"/><g id="field"><rect x="19.0" y="48" width="1158.0" height="67" fill="url(#fslab)"/><rect x="19.0" y="114" width="1158.0" height="72" fill="url(#fv)" shape-rendering="crispEdges"/><rect x="19.0" y="114" width="581.0" height="72" fill="url(#fhl)" style="mix-blend-mode:lighten" shape-rendering="crispEdges"/><rect x="600" y="114" width="577.0" height="72" fill="url(#fhr)" style="mix-blend-mode:lighten" shape-rendering="crispEdges"/><g style="mix-blend-mode:lighten" filter="url(#fblur1)"><polygon points="705.0,150.5 806.0,133 806.0,140.3" fill="#030303"/><polygon points="705.0,150.5 806.0,140 806.0,146.3" fill="#090909"/><polygon points="705.0,150.5 806.0,146 806.0,150.8" fill="#0e0e0e"/><polygon points="705.0,150.5 806.0,150.5 806.0,153.3" fill="#161616"/><polygon points="705.0,150.5 806.0,153 806.0,155.8" fill="#232323"/><polygon points="705.0,150.5 806.0,155.5 806.0,157.3" fill="#323232"/><polygon points="705.0,150.5 806.0,157 806.0,158.8" fill="#444444"/><polygon points="705.0,150.5 806.0,158.5 806.0,160.8" fill="#595959"/><polygon points="705.0,150.5 806.0,160.5 806.0,162.8" fill="#737373"/><polygon points="705.0,150.5 806.0,162.5 806.0,164.3" fill="#878787"/><polygon points="705.0,150.5 806.0,164 806.0,166.0" fill="#969696"/><polygon points="705.0,150.5 806.0,165.7 806.0,167.3" fill="#a6a6a6"/><polygon points="705.0,150.5 806.0,167 806.0,168.8" fill="#b8b8b8"/><polygon points="705.0,150.5 806.0,168.5 806.0,170.3" fill="#c8c8c8"/><polygon points="705.0,150.5 806.0,170 806.0,172.10000000000002" fill="#d6d6d6"/><polygon points="705.0,150.5 806.0,171.8 806.0,174.3" fill="#e5e5e5"/><polygon points="705.0,150.5 806.0,174 806.0,177.10000000000002" fill="#f6f6f6"/><polygon points="705.0,150.5 806.0,176.8 806.0,180.3" fill="#ffffff"/><polygon points="703.0,150.5 806.0,180 806.0,190 703.0,190" fill="#fff"/></g><g shape-rendering="crispEdges" stroke-width="0.6" stroke-linejoin="round"><polygon points="246.5,17.0 252.5,17.0 252.5,23.0" fill="#3d3d3d" stroke="#3d3d3d"/><polygon points="246.5,17.0 252.5,23.0 246.5,23.0" fill="#3d3d3d" stroke="#3d3d3d"/><polygon points="246.5,23.0 252.5,23.0 252.5,40.0" fill="url(#m1)" stroke="url(#m1)"/><polygon points="246.5,23.0 252.5,40.0 246.5,40.0" fill="url(#m2)" stroke="url(#m2)"/><polygon points="246.5,40.0 252.5,40.0 252.5,54.0" fill="url(#m3)" stroke="url(#m3)"/><polygon points="246.5,40.0 252.5,54.0 246.5,54.0" fill="url(#m4)" stroke="url(#m4)"/><polygon points="246.5,54.0 252.5,54.0 252.5,70.0" fill="url(#m5)" stroke="url(#m5)"/><polygon points="246.5,54.0 252.5,70.0 246.5,70.0" fill="url(#m6)" stroke="url(#m6)"/><polygon points="246.5,70.0 252.5,70.0 252.5,78.0" fill="url(#m7)" stroke="url(#m7)"/><polygon points="246.5,70.0 252.5,78.0 246.5,78.0" fill="url(#m8)" stroke="url(#m8)"/><polygon points="246.5,78.0 252.5,78.0 252.5,86.0" fill="url(#m9)" stroke="url(#m9)"/><polygon points="246.5,78.0 252.5,86.0 246.5,86.0" fill="url(#m10)" stroke="url(#m10)"/><polygon points="246.5,86.0 252.5,86.0 252.5,107.5" fill="url(#m11)" stroke="url(#m11)"/><polygon points="246.5,86.0 252.5,107.5 246.5,107.5" fill="url(#m12)" stroke="url(#m12)"/><polygon points="246.5,107.5 252.5,107.5 252.5,114.0" fill="#000000" stroke="#000000"/><polygon points="246.5,107.5 252.5,114.0 246.5,114.0" fill="#000000" stroke="#000000"/><polygon points="252.5,17.0 391.4,17.0 391.4,23.0" fill="#3d3d3d" stroke="#3d3d3d"/><polygon points="252.5,17.0 391.4,23.0 252.5,23.0" fill="#3d3d3d" stroke="#3d3d3d"/><polygon points="252.5,23.0 391.4,23.0 391.4,40.0" fill="url(#m13)" stroke="url(#m13)"/><polygon points="252.5,23.0 391.4,40.0 252.5,40.0" fill="url(#m14)" stroke="url(#m14)"/><polygon points="252.5,40.0 391.4,40.0 391.4,54.0" fill="url(#m15)" stroke="url(#m15)"/><polygon points="252.5,40.0 391.4,54.0 252.5,54.0" fill="url(#m16)" stroke="url(#m16)"/><polygon points="252.5,54.0 391.4,54.0 391.4,70.0" fill="url(#m17)" stroke="url(#m17)"/><polygon points="252.5,54.0 391.4,70.0 252.5,70.0" fill="url(#m18)" stroke="url(#m18)"/><polygon points="252.5,70.0 391.4,70.0 391.4,78.0" fill="url(#m19)" stroke="url(#m19)"/><polygon points="252.5,70.0 391.4,78.0 252.5,78.0" fill="url(#m20)" stroke="url(#m20)"/><polygon points="252.5,78.0 391.4,78.0 391.4,86.0" fill="url(#m21)" stroke="url(#m21)"/><polygon points="252.5,78.0 391.4,86.0 252.5,86.0" fill="url(#m22)" stroke="url(#m22)"/><polygon points="252.5,86.0 391.4,86.0 391.4,107.5" fill="url(#m23)" stroke="url(#m23)"/><polygon points="252.5,86.0 391.4,107.5 252.5,107.5" fill="url(#m24)" stroke="url(#m24)"/><polygon points="252.5,107.5 391.4,107.5 391.4,114.0" fill="#000000" stroke="#000000"/><polygon points="252.5,107.5 391.4,114.0 252.5,114.0" fill="#000000" stroke="#000000"/><polygon points="391.4,17.0 420.0,17.0 420.0,23.0" fill="url(#m25)" stroke="url(#m25)"/><polygon points="391.4,17.0 420.0,23.0 391.4,23.0" fill="url(#m26)" stroke="url(#m26)"/><polygon points="391.4,23.0 420.0,23.0 420.0,40.0" fill="url(#m27)" stroke="url(#m27)"/><polygon points="391.4,23.0 420.0,40.0 391.4,40.0" fill="url(#m28)" stroke="url(#m28)"/><polygon points="391.4,40.0 420.0,40.0 420.0,54.0" fill="url(#m29)" stroke="url(#m29)"/><polygon points="391.4,40.0 420.0,54.0 391.4,54.0" fill="url(#m30)" stroke="url(#m30)"/><polygon points="391.4,54.0 420.0,54.0 420.0,70.0" fill="url(#m31)" stroke="url(#m31)"/><polygon points="391.4,54.0 420.0,70.0 391.4,70.0" fill="url(#m32)" stroke="url(#m32)"/><polygon points="391.4,70.0 420.0,70.0 420.0,78.0" fill="url(#m33)" stroke="url(#m33)"/><polygon points="391.4,70.0 420.0,78.0 391.4,78.0" fill="url(#m34)" stroke="url(#m34)"/><polygon points="391.4,78.0 420.0,78.0 420.0,86.0" fill="url(#m35)" stroke="url(#m35)"/><polygon points="391.4,78.0 420.0,86.0 391.4,86.0" fill="url(#m36)" stroke="url(#m36)"/><polygon points="391.4,86.0 420.0,86.0 420.0,107.5" fill="url(#m37)" stroke="url(#m37)"/><polygon points="391.4,86.0 420.0,107.5 391.4,107.5" fill="url(#m38)" stroke="url(#m38)"/><polygon points="391.4,107.5 420.0,107.5 420.0,114.0" fill="url(#m39)" stroke="url(#m39)"/><polygon points="391.4,107.5 420.0,114.0 391.4,114.0" fill="url(#m40)" stroke="url(#m40)"/><polygon points="420.0,17.0 450.0,17.0 450.0,23.0" fill="url(#m41)" stroke="url(#m41)"/><polygon points="420.0,17.0 450.0,23.0 420.0,23.0" fill="url(#m42)" stroke="url(#m42)"/><polygon points="420.0,23.0 450.0,23.0 450.0,40.0" fill="url(#m43)" stroke="url(#m43)"/><polygon points="420.0,23.0 450.0,40.0 420.0,40.0" fill="url(#m44)" stroke="url(#m44)"/><polygon points="420.0,40.0 450.0,40.0 450.0,54.0" fill="url(#m45)" stroke="url(#m45)"/><polygon points="420.0,40.0 450.0,54.0 420.0,54.0" fill="url(#m46)" stroke="url(#m46)"/><polygon points="420.0,54.0 450.0,54.0 450.0,70.0" fill="url(#m47)" stroke="url(#m47)"/><polygon points="420.0,54.0 450.0,70.0 420.0,70.0" fill="url(#m48)" stroke="url(#m48)"/><polygon points="420.0,70.0 450.0,70.0 450.0,78.0" fill="url(#m49)" stroke="url(#m49)"/><polygon points="420.0,70.0 450.0,78.0 420.0,78.0" fill="url(#m50)" stroke="url(#m50)"/><polygon points="420.0,78.0 450.0,78.0 450.0,86.0" fill="url(#m51)" stroke="url(#m51)"/><polygon points="420.0,78.0 450.0,86.0 420.0,86.0" fill="url(#m52)" stroke="url(#m52)"/><polygon points="420.0,86.0 450.0,86.0 450.0,107.5" fill="url(#m53)" stroke="url(#m53)"/><polygon points="420.0,86.0 450.0,107.5 420.0,107.5" fill="url(#m54)" stroke="url(#m54)"/><polygon points="420.0,107.5 450.0,107.5 450.0,114.0" fill="url(#m55)" stroke="url(#m55)"/><polygon points="420.0,107.5 450.0,114.0 420.0,114.0" fill="url(#m56)" stroke="url(#m56)"/><polygon points="450.0,17.0 495.0,17.0 495.0,23.0" fill="url(#m57)" stroke="url(#m57)"/><polygon points="450.0,17.0 495.0,23.0 450.0,23.0" fill="url(#m58)" stroke="url(#m58)"/><polygon points="450.0,23.0 495.0,23.0 495.0,40.0" fill="url(#m59)" stroke="url(#m59)"/><polygon points="450.0,23.0 495.0,40.0 450.0,40.0" fill="url(#m60)" stroke="url(#m60)"/><polygon points="450.0,40.0 495.0,40.0 495.0,54.0" fill="url(#m61)" stroke="url(#m61)"/><polygon points="450.0,40.0 495.0,54.0 450.0,54.0" fill="url(#m62)" stroke="url(#m62)"/><polygon points="450.0,54.0 495.0,54.0 495.0,70.0" fill="url(#m63)" stroke="url(#m63)"/><polygon points="450.0,54.0 495.0,70.0 450.0,70.0" fill="url(#m64)" stroke="url(#m64)"/><polygon points="450.0,70.0 495.0,70.0 495.0,78.0" fill="url(#m65)" stroke="url(#m65)"/><polygon points="450.0,70.0 495.0,78.0 450.0,78.0" fill="url(#m66)" stroke="url(#m66)"/><polygon points="450.0,78.0 495.0,78.0 495.0,86.0" fill="url(#m67)" stroke="url(#m67)"/><polygon points="450.0,78.0 495.0,86.0 450.0,86.0" fill="url(#m68)" stroke="url(#m68)"/><polygon points="450.0,86.0 495.0,86.0 495.0,107.5" fill="url(#m69)" stroke="url(#m69)"/><polygon points="450.0,86.0 495.0,107.5 450.0,107.5" fill="url(#m70)" stroke="url(#m70)"/><polygon points="450.0,107.5 495.0,107.5 495.0,114.0" fill="url(#m71)" stroke="url(#m71)"/><polygon points="450.0,107.5 495.0,114.0 450.0,114.0" fill="url(#m72)" stroke="url(#m72)"/><polygon points="495.0,17.0 505.0,17.0 505.0,23.0" fill="#707070" stroke="#707070"/><polygon points="495.0,17.0 505.0,23.0 495.0,23.0" fill="#707070" stroke="#707070"/><polygon points="495.0,23.0 505.0,23.0 505.0,40.0" fill="url(#m73)" stroke="url(#m73)"/><polygon points="495.0,23.0 505.0,40.0 495.0,40.0" fill="url(#m74)" stroke="url(#m74)"/><polygon points="495.0,40.0 505.0,40.0 508.0,54.0" fill="url(#m75)" stroke="url(#m75)"/><polygon points="495.0,40.0 508.0,54.0 495.0,54.0" fill="url(#m76)" stroke="url(#m76)"/><polygon points="495.0,54.0 508.0,54.0 510.7,70.0" fill="url(#m77)" stroke="url(#m77)"/><polygon points="495.0,54.0 510.7,70.0 495.0,70.0" fill="url(#m78)" stroke="url(#m78)"/><polygon points="495.0,70.0 510.7,70.0 513.0,78.0" fill="url(#m79)" stroke="url(#m79)"/><polygon points="495.0,70.0 513.0,78.0 495.0,78.0" fill="url(#m80)" stroke="url(#m80)"/><polygon points="495.0,78.0 513.0,78.0 513.1,86.0" fill="url(#m81)" stroke="url(#m81)"/><polygon points="495.0,78.0 513.1,86.0 495.0,86.0" fill="url(#m82)" stroke="url(#m82)"/><polygon points="495.0,86.0 513.1,86.0 516.0,107.5" fill="url(#m83)" stroke="url(#m83)"/><polygon points="495.0,86.0 516.0,107.5 495.0,107.5" fill="url(#m84)" stroke="url(#m84)"/><polygon points="495.0,107.5 516.0,107.5 516.0,114.0" fill="url(#m85)" stroke="url(#m85)"/><polygon points="495.0,107.5 516.0,114.0 495.0,114.0" fill="url(#m86)" stroke="url(#m86)"/><polygon points="505.0,17.0 515.0,17.0 515.0,23.0" fill="url(#m87)" stroke="url(#m87)"/><polygon points="505.0,17.0 515.0,23.0 505.0,23.0" fill="url(#m88)" stroke="url(#m88)"/><polygon points="505.0,23.0 515.0,23.0 518.0,40.0" fill="url(#m89)" stroke="url(#m89)"/><polygon points="505.0,23.0 518.0,40.0 505.0,40.0" fill="url(#m90)" stroke="url(#m90)"/><polygon points="505.0,40.0 518.0,40.0 522.0,54.0" fill="url(#m91)" stroke="url(#m91)"/><polygon points="505.0,40.0 522.0,54.0 508.0,54.0" fill="url(#m92)" stroke="url(#m92)"/><polygon points="508.0,54.0 522.0,54.0 524.0,70.0" fill="url(#m93)" stroke="url(#m93)"/><polygon points="508.0,54.0 524.0,70.0 510.7,70.0" fill="url(#m94)" stroke="url(#m94)"/><polygon points="510.7,70.0 524.0,70.0 538.0,78.0" fill="url(#m95)" stroke="url(#m95)"/><polygon points="510.7,70.0 538.0,78.0 513.0,78.0" fill="url(#m96)" stroke="url(#m96)"/><polygon points="513.0,78.0 538.0,78.0 525.0,86.0" fill="url(#m97)" stroke="url(#m97)"/><polygon points="513.0,78.0 525.0,86.0 513.1,86.0" fill="url(#m98)" stroke="url(#m98)"/><polygon points="513.1,86.0 525.0,86.0 528.0,107.5" fill="url(#m99)" stroke="url(#m99)"/><polygon points="513.1,86.0 528.0,107.5 516.0,107.5" fill="url(#m100)" stroke="url(#m100)"/><polygon points="516.0,107.5 528.0,107.5 528.0,114.0" fill="url(#m101)" stroke="url(#m101)"/><polygon points="516.0,107.5 528.0,114.0 516.0,114.0" fill="url(#m102)" stroke="url(#m102)"/><polygon points="515.0,17.0 528.0,17.0 528.0,23.0" fill="url(#m103)" stroke="url(#m103)"/><polygon points="515.0,17.0 528.0,23.0 515.0,23.0" fill="url(#m104)" stroke="url(#m104)"/><polygon points="515.0,23.0 528.0,23.0 540.0,40.0" fill="url(#m105)" stroke="url(#m105)"/><polygon points="515.0,23.0 540.0,40.0 518.0,40.0" fill="url(#m106)" stroke="url(#m106)"/><polygon points="518.0,40.0 540.0,40.0 548.0,54.0" fill="url(#m107)" stroke="url(#m107)"/><polygon points="518.0,40.0 548.0,54.0 522.0,54.0" fill="url(#m108)" stroke="url(#m108)"/><polygon points="522.0,54.0 548.0,54.0 548.0,70.0" fill="url(#m109)" stroke="url(#m109)"/><polygon points="522.0,54.0 548.0,70.0 524.0,70.0" fill="url(#m110)" stroke="url(#m110)"/><polygon points="524.0,70.0 548.0,70.0 548.0,78.0" fill="url(#m111)" stroke="url(#m111)"/><polygon points="524.0,70.0 548.0,78.0 538.0,78.0" fill="url(#m112)" stroke="url(#m112)"/><polygon points="538.0,78.0 548.0,78.0 544.7,86.0" fill="url(#m113)" stroke="url(#m113)"/><polygon points="538.0,78.0 544.7,86.0 525.0,86.0" fill="url(#m114)" stroke="url(#m114)"/><polygon points="525.0,86.0 544.7,86.0 536.0,107.5" fill="url(#m115)" stroke="url(#m115)"/><polygon points="525.0,86.0 536.0,107.5 528.0,107.5" fill="url(#m116)" stroke="url(#m116)"/><polygon points="528.0,107.5 536.0,107.5 536.0,114.0" fill="url(#m117)" stroke="url(#m117)"/><polygon points="528.0,107.5 536.0,114.0 528.0,114.0" fill="url(#m118)" stroke="url(#m118)"/><polygon points="528.0,17.0 534.0,17.0 534.0,23.0" fill="url(#m119)" stroke="url(#m119)"/><polygon points="528.0,17.0 534.0,23.0 528.0,23.0" fill="url(#m120)" stroke="url(#m120)"/><polygon points="528.0,23.0 534.0,23.0 551.0,40.0" fill="url(#m121)" stroke="url(#m121)"/><polygon points="528.0,23.0 551.0,40.0 540.0,40.0" fill="url(#m122)" stroke="url(#m122)"/><polygon points="540.0,40.0 551.0,40.0 565.0,54.0" fill="url(#m123)" stroke="url(#m123)"/><polygon points="540.0,40.0 565.0,54.0 548.0,54.0" fill="url(#m124)" stroke="url(#m124)"/><polygon points="548.0,54.0 565.0,54.0 562.3,70.0" fill="url(#m125)" stroke="url(#m125)"/><polygon points="548.0,54.0 562.3,70.0 548.0,70.0" fill="url(#m126)" stroke="url(#m126)"/><polygon points="548.0,70.0 562.3,70.0 561.0,78.0" fill="url(#m127)" stroke="url(#m127)"/><polygon points="548.0,70.0 561.0,78.0 548.0,78.0" fill="url(#m128)" stroke="url(#m128)"/><polygon points="548.0,78.0 561.0,78.0 556.9,86.0" fill="url(#m129)" stroke="url(#m129)"/><polygon points="548.0,78.0 556.9,86.0 544.7,86.0" fill="url(#m130)" stroke="url(#m130)"/><polygon points="544.7,86.0 556.9,86.0 546.0,107.5" fill="url(#m131)" stroke="url(#m131)"/><polygon points="544.7,86.0 546.0,107.5 536.0,107.5" fill="url(#m132)" stroke="url(#m132)"/><polygon points="536.0,107.5 546.0,107.5 546.0,114.0" fill="url(#m133)" stroke="url(#m133)"/><polygon points="536.0,107.5 546.0,114.0 536.0,114.0" fill="url(#m134)" stroke="url(#m134)"/><polygon points="534.0,17.0 542.0,17.0 542.0,23.0" fill="url(#m135)" stroke="url(#m135)"/><polygon points="534.0,17.0 542.0,23.0 534.0,23.0" fill="url(#m136)" stroke="url(#m136)"/><polygon points="534.0,23.0 542.0,23.0 560.0,40.0" fill="url(#m137)" stroke="url(#m137)"/><polygon points="534.0,23.0 560.0,40.0 551.0,40.0" fill="url(#m138)" stroke="url(#m138)"/><polygon points="551.0,40.0 560.0,40.0 575.0,54.0" fill="url(#m139)" stroke="url(#m139)"/><polygon points="551.0,40.0 575.0,54.0 565.0,54.0" fill="url(#m140)" stroke="url(#m140)"/><polygon points="565.0,54.0 575.0,54.0 585.0,70.0" fill="url(#m141)" stroke="url(#m141)"/><polygon points="565.0,54.0 585.0,70.0 562.3,70.0" fill="url(#m142)" stroke="url(#m142)"/><polygon points="562.3,70.0 585.0,70.0 590.0,78.0" fill="url(#m143)" stroke="url(#m143)"/><polygon points="562.3,70.0 590.0,78.0 561.0,78.0" fill="url(#m144)" stroke="url(#m144)"/><polygon points="561.0,78.0 590.0,78.0 581.3,86.0" fill="url(#m145)" stroke="url(#m145)"/><polygon points="561.0,78.0 581.3,86.0 556.9,86.0" fill="url(#m146)" stroke="url(#m146)"/><polygon points="556.9,86.0 581.3,86.0 558.0,107.5" fill="url(#m147)" stroke="url(#m147)"/><polygon points="556.9,86.0 558.0,107.5 546.0,107.5" fill="url(#m148)" stroke="url(#m148)"/><polygon points="546.0,107.5 558.0,107.5 558.0,114.0" fill="url(#m149)" stroke="url(#m149)"/><polygon points="546.0,107.5 558.0,114.0 546.0,114.0" fill="url(#m150)" stroke="url(#m150)"/><polygon points="542.0,17.0 573.0,17.0 573.0,23.0" fill="url(#m151)" stroke="url(#m151)"/><polygon points="542.0,17.0 573.0,23.0 542.0,23.0" fill="url(#m152)" stroke="url(#m152)"/><polygon points="542.0,23.0 573.0,23.0 585.0,40.0" fill="url(#m153)" stroke="url(#m153)"/><polygon points="542.0,23.0 585.0,40.0 560.0,40.0" fill="url(#m154)" stroke="url(#m154)"/><polygon points="560.0,40.0 585.0,40.0 590.0,54.0" fill="url(#m155)" stroke="url(#m155)"/><polygon points="560.0,40.0 590.0,54.0 575.0,54.0" fill="url(#m156)" stroke="url(#m156)"/><polygon points="575.0,54.0 590.0,54.0 594.0,70.0" fill="url(#m157)" stroke="url(#m157)"/><polygon points="575.0,54.0 594.0,70.0 585.0,70.0" fill="url(#m158)" stroke="url(#m158)"/><polygon points="585.0,70.0 594.0,70.0 596.0,78.0" fill="url(#m159)" stroke="url(#m159)"/><polygon points="585.0,70.0 596.0,78.0 590.0,78.0" fill="url(#m160)" stroke="url(#m160)"/><polygon points="590.0,78.0 596.0,78.0 581.3,86.0" fill="url(#m161)" stroke="url(#m161)"/><polygon points="596.0,78.0 593.3,86.0 581.3,86.0" fill="url(#m162)" stroke="url(#m162)"/><polygon points="581.3,86.0 593.3,86.0 558.0,107.5" fill="url(#m163)" stroke="url(#m163)"/><polygon points="593.3,86.0 586.0,107.5 558.0,107.5" fill="url(#m164)" stroke="url(#m164)"/><polygon points="558.0,107.5 586.0,107.5 586.0,114.0" fill="url(#m165)" stroke="url(#m165)"/><polygon points="558.0,107.5 586.0,114.0 558.0,114.0" fill="url(#m166)" stroke="url(#m166)"/><polygon points="573.0,17.0 598.0,17.0 598.0,23.0" fill="url(#m167)" stroke="url(#m167)"/><polygon points="573.0,17.0 598.0,23.0 573.0,23.0" fill="url(#m168)" stroke="url(#m168)"/><polygon points="573.0,23.0 598.0,23.0 598.0,40.0" fill="url(#m169)" stroke="url(#m169)"/><polygon points="573.0,23.0 598.0,40.0 585.0,40.0" fill="url(#m170)" stroke="url(#m170)"/><polygon points="585.0,40.0 598.0,40.0 598.0,54.0" fill="url(#m171)" stroke="url(#m171)"/><polygon points="585.0,40.0 598.0,54.0 590.0,54.0" fill="url(#m172)" stroke="url(#m172)"/><polygon points="590.0,54.0 598.0,54.0 598.0,70.0" fill="url(#m173)" stroke="url(#m173)"/><polygon points="590.0,54.0 598.0,70.0 594.0,70.0" fill="url(#m174)" stroke="url(#m174)"/><polygon points="594.0,70.0 598.0,70.0 598.0,78.0" fill="url(#m175)" stroke="url(#m175)"/><polygon points="594.0,70.0 598.0,78.0 596.0,78.0" fill="url(#m176)" stroke="url(#m176)"/><polygon points="596.0,78.0 598.0,78.0 593.3,86.0" fill="url(#m177)" stroke="url(#m177)"/><polygon points="598.0,78.0 598.0,86.0 593.3,86.0" fill="url(#m178)" stroke="url(#m178)"/><polygon points="593.3,86.0 598.0,86.0 586.0,107.5" fill="url(#m179)" stroke="url(#m179)"/><polygon points="598.0,86.0 598.0,107.5 586.0,107.5" fill="url(#m180)" stroke="url(#m180)"/><polygon points="586.0,107.5 598.0,107.5 598.0,114.0" fill="url(#m181)" stroke="url(#m181)"/><polygon points="586.0,107.5 598.0,114.0 586.0,114.0" fill="url(#m182)" stroke="url(#m182)"/><polygon points="598.0,17.0 623.0,17.0 623.0,23.0" fill="url(#m183)" stroke="url(#m183)"/><polygon points="598.0,17.0 623.0,23.0 598.0,23.0" fill="url(#m184)" stroke="url(#m184)"/><polygon points="598.0,23.0 623.0,23.0 598.0,40.0" fill="url(#m185)" stroke="url(#m185)"/><polygon points="623.0,23.0 611.0,40.0 598.0,40.0" fill="url(#m186)" stroke="url(#m186)"/><polygon points="598.0,40.0 611.0,40.0 598.0,54.0" fill="url(#m187)" stroke="url(#m187)"/><polygon points="611.0,40.0 606.0,54.0 598.0,54.0" fill="url(#m188)" stroke="url(#m188)"/><polygon points="598.0,54.0 606.0,54.0 598.0,70.0" fill="url(#m189)" stroke="url(#m189)"/><polygon points="606.0,54.0 602.0,70.0 598.0,70.0" fill="url(#m190)" stroke="url(#m190)"/><polygon points="598.0,70.0 602.0,70.0 598.0,78.0" fill="url(#m191)" stroke="url(#m191)"/><polygon points="602.0,70.0 600.0,78.0 598.0,78.0" fill="url(#m192)" stroke="url(#m192)"/><polygon points="598.0,78.0 600.0,78.0 602.7,86.0" fill="url(#m193)" stroke="url(#m193)"/><polygon points="598.0,78.0 602.7,86.0 598.0,86.0" fill="url(#m194)" stroke="url(#m194)"/><polygon points="598.0,86.0 602.7,86.0 610.0,107.5" fill="url(#m195)" stroke="url(#m195)"/><polygon points="598.0,86.0 610.0,107.5 598.0,107.5" fill="url(#m196)" stroke="url(#m196)"/><polygon points="598.0,107.5 610.0,107.5 610.0,114.0" fill="url(#m197)" stroke="url(#m197)"/><polygon points="598.0,107.5 610.0,114.0 598.0,114.0" fill="url(#m198)" stroke="url(#m198)"/><polygon points="623.0,17.0 654.0,17.0 654.0,23.0" fill="url(#m199)" stroke="url(#m199)"/><polygon points="623.0,17.0 654.0,23.0 623.0,23.0" fill="url(#m200)" stroke="url(#m200)"/><polygon points="623.0,23.0 654.0,23.0 611.0,40.0" fill="url(#m201)" stroke="url(#m201)"/><polygon points="654.0,23.0 636.0,40.0 611.0,40.0" fill="url(#m202)" stroke="url(#m202)"/><polygon points="611.0,40.0 636.0,40.0 606.0,54.0" fill="url(#m203)" stroke="url(#m203)"/><polygon points="636.0,40.0 621.0,54.0 606.0,54.0" fill="url(#m204)" stroke="url(#m204)"/><polygon points="606.0,54.0 621.0,54.0 602.0,70.0" fill="url(#m205)" stroke="url(#m205)"/><polygon points="621.0,54.0 611.0,70.0 602.0,70.0" fill="url(#m206)" stroke="url(#m206)"/><polygon points="602.0,70.0 611.0,70.0 600.0,78.0" fill="url(#m207)" stroke="url(#m207)"/><polygon points="611.0,70.0 606.0,78.0 600.0,78.0" fill="url(#m208)" stroke="url(#m208)"/><polygon points="600.0,78.0 606.0,78.0 614.7,86.0" fill="url(#m209)" stroke="url(#m209)"/><polygon points="600.0,78.0 614.7,86.0 602.7,86.0" fill="url(#m210)" stroke="url(#m210)"/><polygon points="602.7,86.0 614.7,86.0 638.0,107.5" fill="url(#m211)" stroke="url(#m211)"/><polygon points="602.7,86.0 638.0,107.5 610.0,107.5" fill="url(#m212)" stroke="url(#m212)"/><polygon points="610.0,107.5 638.0,107.5 638.0,114.0" fill="url(#m213)" stroke="url(#m213)"/><polygon points="610.0,107.5 638.0,114.0 610.0,114.0" fill="url(#m214)" stroke="url(#m214)"/><polygon points="654.0,17.0 662.0,17.0 662.0,23.0" fill="url(#m215)" stroke="url(#m215)"/><polygon points="654.0,17.0 662.0,23.0 654.0,23.0" fill="url(#m216)" stroke="url(#m216)"/><polygon points="654.0,23.0 662.0,23.0 645.0,40.0" fill="url(#m217)" stroke="url(#m217)"/><polygon points="654.0,23.0 645.0,40.0 636.0,40.0" fill="url(#m218)" stroke="url(#m218)"/><polygon points="636.0,40.0 645.0,40.0 631.0,54.0" fill="url(#m219)" stroke="url(#m219)"/><polygon points="636.0,40.0 631.0,54.0 621.0,54.0" fill="url(#m220)" stroke="url(#m220)"/><polygon points="621.0,54.0 631.0,54.0 633.0,70.0" fill="url(#m221)" stroke="url(#m221)"/><polygon points="621.0,54.0 633.0,70.0 611.0,70.0" fill="url(#m222)" stroke="url(#m222)"/><polygon points="611.0,70.0 633.0,70.0 634.0,78.0" fill="url(#m223)" stroke="url(#m223)"/><polygon points="611.0,70.0 634.0,78.0 606.0,78.0" fill="url(#m224)" stroke="url(#m224)"/><polygon points="606.0,78.0 634.0,78.0 638.3,86.0" fill="url(#m225)" stroke="url(#m225)"/><polygon points="606.0,78.0 638.3,86.0 614.7,86.0" fill="url(#m226)" stroke="url(#m226)"/><polygon points="614.7,86.0 638.3,86.0 650.0,107.5" fill="url(#m227)" stroke="url(#m227)"/><polygon points="614.7,86.0 650.0,107.5 638.0,107.5" fill="url(#m228)" stroke="url(#m228)"/><polygon points="638.0,107.5 650.0,107.5 650.0,114.0" fill="url(#m229)" stroke="url(#m229)"/><polygon points="638.0,107.5 650.0,114.0 638.0,114.0" fill="url(#m230)" stroke="url(#m230)"/><polygon points="662.0,17.0 668.0,17.0 668.0,23.0" fill="url(#m231)" stroke="url(#m231)"/><polygon points="662.0,17.0 668.0,23.0 662.0,23.0" fill="url(#m232)" stroke="url(#m232)"/><polygon points="662.0,23.0 668.0,23.0 645.0,40.0" fill="url(#m233)" stroke="url(#m233)"/><polygon points="668.0,23.0 656.0,40.0 645.0,40.0" fill="url(#m234)" stroke="url(#m234)"/><polygon points="645.0,40.0 656.0,40.0 631.0,54.0" fill="url(#m235)" stroke="url(#m235)"/><polygon points="656.0,40.0 648.0,54.0 631.0,54.0" fill="url(#m236)" stroke="url(#m236)"/><polygon points="631.0,54.0 648.0,54.0 646.7,70.0" fill="url(#m237)" stroke="url(#m237)"/><polygon points="631.0,54.0 646.7,70.0 633.0,70.0" fill="url(#m238)" stroke="url(#m238)"/><polygon points="633.0,70.0 646.7,70.0 646.0,78.0" fill="url(#m239)" stroke="url(#m239)"/><polygon points="633.0,70.0 646.0,78.0 634.0,78.0" fill="url(#m240)" stroke="url(#m240)"/><polygon points="634.0,78.0 646.0,78.0 648.4,86.0" fill="url(#m241)" stroke="url(#m241)"/><polygon points="634.0,78.0 648.4,86.0 638.3,86.0" fill="url(#m242)" stroke="url(#m242)"/><polygon points="638.3,86.0 648.4,86.0 655.0,107.5" fill="url(#m243)" stroke="url(#m243)"/><polygon points="638.3,86.0 655.0,107.5 650.0,107.5" fill="url(#m244)" stroke="url(#m244)"/><polygon points="650.0,107.5 655.0,107.5 655.0,114.0" fill="url(#m245)" stroke="url(#m245)"/><polygon points="650.0,107.5 655.0,114.0 650.0,114.0" fill="url(#m246)" stroke="url(#m246)"/><polygon points="668.0,17.0 683.0,17.0 683.0,23.0" fill="url(#m247)" stroke="url(#m247)"/><polygon points="668.0,17.0 683.0,23.0 668.0,23.0" fill="url(#m248)" stroke="url(#m248)"/><polygon points="668.0,23.0 683.0,23.0 656.0,40.0" fill="url(#m249)" stroke="url(#m249)"/><polygon points="683.0,23.0 683.0,40.0 656.0,40.0" fill="url(#m250)" stroke="url(#m250)"/><polygon points="656.0,40.0 683.0,40.0 648.0,54.0" fill="url(#m251)" stroke="url(#m251)"/><polygon points="683.0,40.0 683.0,54.0 648.0,54.0" fill="url(#m252)" stroke="url(#m252)"/><polygon points="648.0,54.0 683.0,54.0 669.0,70.0" fill="url(#m253)" stroke="url(#m253)"/><polygon points="648.0,54.0 669.0,70.0 646.7,70.0" fill="url(#m254)" stroke="url(#m254)"/><polygon points="646.7,70.0 669.0,70.0 662.0,78.0" fill="url(#m255)" stroke="url(#m255)"/><polygon points="646.7,70.0 662.0,78.0 646.0,78.0" fill="url(#m256)" stroke="url(#m256)"/><polygon points="646.0,78.0 662.0,78.0 661.5,86.0" fill="url(#m257)" stroke="url(#m257)"/><polygon points="646.0,78.0 661.5,86.0 648.4,86.0" fill="url(#m258)" stroke="url(#m258)"/><polygon points="648.4,86.0 661.5,86.0 660.0,107.5" fill="url(#m259)" stroke="url(#m259)"/><polygon points="648.4,86.0 660.0,107.5 655.0,107.5" fill="url(#m260)" stroke="url(#m260)"/><polygon points="655.0,107.5 660.0,107.5 660.0,114.0" fill="url(#m261)" stroke="url(#m261)"/><polygon points="655.0,107.5 660.0,114.0 655.0,114.0" fill="url(#m262)" stroke="url(#m262)"/><polygon points="683.0,17.0 696.0,17.0 696.0,23.0" fill="#707070" stroke="#707070"/><polygon points="683.0,17.0 696.0,23.0 683.0,23.0" fill="#707070" stroke="#707070"/><polygon points="683.0,23.0 696.0,23.0 683.0,40.0" fill="url(#m263)" stroke="url(#m263)"/><polygon points="696.0,23.0 696.0,40.0 683.0,40.0" fill="url(#m264)" stroke="url(#m264)"/><polygon points="683.0,40.0 696.0,40.0 683.0,54.0" fill="url(#m265)" stroke="url(#m265)"/><polygon points="696.0,40.0 696.0,54.0 683.0,54.0" fill="url(#m266)" stroke="url(#m266)"/><polygon points="683.0,54.0 696.0,54.0 687.3,70.0" fill="url(#m267)" stroke="url(#m267)"/><polygon points="683.0,54.0 687.3,70.0 669.0,70.0" fill="url(#m268)" stroke="url(#m268)"/><polygon points="669.0,70.0 687.3,70.0 683.0,78.0" fill="url(#m269)" stroke="url(#m269)"/><polygon points="669.0,70.0 683.0,78.0 662.0,78.0" fill="url(#m270)" stroke="url(#m270)"/><polygon points="662.0,78.0 683.0,78.0 681.1,86.0" fill="url(#m271)" stroke="url(#m271)"/><polygon points="662.0,78.0 681.1,86.0 661.5,86.0" fill="url(#m272)" stroke="url(#m272)"/><polygon points="661.5,86.0 681.1,86.0 676.0,107.5" fill="url(#m273)" stroke="url(#m273)"/><polygon points="661.5,86.0 676.0,107.5 660.0,107.5" fill="url(#m274)" stroke="url(#m274)"/><polygon points="660.0,107.5 676.0,107.5 676.0,114.0" fill="url(#m275)" stroke="url(#m275)"/><polygon points="660.0,107.5 676.0,114.0 660.0,114.0" fill="url(#m276)" stroke="url(#m276)"/><polygon points="696.0,17.0 710.0,17.0 710.0,23.0" fill="url(#m277)" stroke="url(#m277)"/><polygon points="696.0,17.0 710.0,23.0 696.0,23.0" fill="url(#m278)" stroke="url(#m278)"/><polygon points="696.0,23.0 710.0,23.0 696.0,40.0" fill="url(#m279)" stroke="url(#m279)"/><polygon points="710.0,23.0 710.0,40.0 696.0,40.0" fill="url(#m280)" stroke="url(#m280)"/><polygon points="696.0,40.0 710.0,40.0 696.0,54.0" fill="url(#m281)" stroke="url(#m281)"/><polygon points="710.0,40.0 710.0,54.0 696.0,54.0" fill="url(#m282)" stroke="url(#m282)"/><polygon points="696.0,54.0 710.0,54.0 687.3,70.0" fill="url(#m283)" stroke="url(#m283)"/><polygon points="710.0,54.0 702.0,70.0 687.3,70.0" fill="url(#m284)" stroke="url(#m284)"/><polygon points="687.3,70.0 702.0,70.0 683.0,78.0" fill="url(#m285)" stroke="url(#m285)"/><polygon points="702.0,70.0 698.0,78.0 683.0,78.0" fill="url(#m286)" stroke="url(#m286)"/><polygon points="683.0,78.0 698.0,78.0 681.1,86.0" fill="url(#m287)" stroke="url(#m287)"/><polygon points="698.0,78.0 695.8,86.0 681.1,86.0" fill="url(#m288)" stroke="url(#m288)"/><polygon points="681.1,86.0 695.8,86.0 676.0,107.5" fill="url(#m289)" stroke="url(#m289)"/><polygon points="695.8,86.0 690.0,107.5 676.0,107.5" fill="url(#m290)" stroke="url(#m290)"/><polygon points="676.0,107.5 690.0,107.5 690.0,114.0" fill="url(#m291)" stroke="url(#m291)"/><polygon points="676.0,107.5 690.0,114.0 676.0,114.0" fill="url(#m292)" stroke="url(#m292)"/><polygon points="710.0,17.0 760.0,17.0 760.0,23.0" fill="url(#m293)" stroke="url(#m293)"/><polygon points="710.0,17.0 760.0,23.0 710.0,23.0" fill="url(#m294)" stroke="url(#m294)"/><polygon points="710.0,23.0 760.0,23.0 710.0,40.0" fill="url(#m295)" stroke="url(#m295)"/><polygon points="760.0,23.0 760.0,40.0 710.0,40.0" fill="url(#m296)" stroke="url(#m296)"/><polygon points="710.0,40.0 760.0,40.0 710.0,54.0" fill="url(#m297)" stroke="url(#m297)"/><polygon points="760.0,40.0 760.0,54.0 710.0,54.0" fill="url(#m298)" stroke="url(#m298)"/><polygon points="710.0,54.0 760.0,54.0 702.0,70.0" fill="url(#m299)" stroke="url(#m299)"/><polygon points="760.0,54.0 760.0,70.0 702.0,70.0" fill="url(#m300)" stroke="url(#m300)"/><polygon points="702.0,70.0 760.0,70.0 698.0,78.0" fill="url(#m301)" stroke="url(#m301)"/><polygon points="760.0,70.0 760.0,78.0 698.0,78.0" fill="url(#m302)" stroke="url(#m302)"/><polygon points="698.0,78.0 760.0,78.0 695.8,86.0" fill="url(#m303)" stroke="url(#m303)"/><polygon points="760.0,78.0 760.0,86.0 695.8,86.0" fill="url(#m304)" stroke="url(#m304)"/><polygon points="695.8,86.0 760.0,86.0 690.0,107.5" fill="url(#m305)" stroke="url(#m305)"/><polygon points="760.0,86.0 760.0,107.5 690.0,107.5" fill="url(#m306)" stroke="url(#m306)"/><polygon points="690.0,107.5 760.0,107.5 760.0,114.0" fill="url(#m307)" stroke="url(#m307)"/><polygon points="690.0,107.5 760.0,114.0 690.0,114.0" fill="url(#m308)" stroke="url(#m308)"/><polygon points="760.0,17.0 803.6,17.0 803.6,23.0" fill="url(#m309)" stroke="url(#m309)"/><polygon points="760.0,17.0 803.6,23.0 760.0,23.0" fill="url(#m310)" stroke="url(#m310)"/><polygon points="760.0,23.0 803.6,23.0 760.0,40.0" fill="url(#m311)" stroke="url(#m311)"/><polygon points="803.6,23.0 803.6,40.0 760.0,40.0" fill="url(#m312)" stroke="url(#m312)"/><polygon points="760.0,40.0 803.6,40.0 760.0,54.0" fill="url(#m313)" stroke="url(#m313)"/><polygon points="803.6,40.0 803.6,54.0 760.0,54.0" fill="url(#m314)" stroke="url(#m314)"/><polygon points="760.0,54.0 803.6,54.0 760.0,70.0" fill="url(#m315)" stroke="url(#m315)"/><polygon points="803.6,54.0 803.6,70.0 760.0,70.0" fill="url(#m316)" stroke="url(#m316)"/><polygon points="760.0,70.0 803.6,70.0 760.0,78.0" fill="url(#m317)" stroke="url(#m317)"/><polygon points="803.6,70.0 803.6,78.0 760.0,78.0" fill="url(#m318)" stroke="url(#m318)"/><polygon points="760.0,78.0 803.6,78.0 760.0,86.0" fill="url(#m319)" stroke="url(#m319)"/><polygon points="803.6,78.0 803.6,86.0 760.0,86.0" fill="url(#m320)" stroke="url(#m320)"/><polygon points="760.0,86.0 803.6,86.0 760.0,107.5" fill="url(#m321)" stroke="url(#m321)"/><polygon points="803.6,86.0 803.6,107.5 760.0,107.5" fill="url(#m322)" stroke="url(#m322)"/><polygon points="760.0,107.5 803.6,107.5 803.6,114.0" fill="url(#m323)" stroke="url(#m323)"/><polygon points="760.0,107.5 803.6,114.0 760.0,114.0" fill="url(#m324)" stroke="url(#m324)"/><polygon points="803.6,17.0 942.0,17.0 942.0,23.0" fill="#3d3d3d" stroke="#3d3d3d"/><polygon points="803.6,17.0 942.0,23.0 803.6,23.0" fill="#3d3d3d" stroke="#3d3d3d"/><polygon points="803.6,23.0 942.0,23.0 942.0,40.0" fill="url(#m325)" stroke="url(#m325)"/><polygon points="803.6,23.0 942.0,40.0 803.6,40.0" fill="url(#m326)" stroke="url(#m326)"/><polygon points="803.6,40.0 942.0,40.0 942.0,54.0" fill="url(#m327)" stroke="url(#m327)"/><polygon points="803.6,40.0 942.0,54.0 803.6,54.0" fill="url(#m328)" stroke="url(#m328)"/><polygon points="803.6,54.0 942.0,54.0 942.0,70.0" fill="url(#m329)" stroke="url(#m329)"/><polygon points="803.6,54.0 942.0,70.0 803.6,70.0" fill="url(#m330)" stroke="url(#m330)"/><polygon points="803.6,70.0 942.0,70.0 942.0,78.0" fill="url(#m331)" stroke="url(#m331)"/><polygon points="803.6,70.0 942.0,78.0 803.6,78.0" fill="url(#m332)" stroke="url(#m332)"/><polygon points="803.6,78.0 942.0,78.0 942.0,86.0" fill="url(#m333)" stroke="url(#m333)"/><polygon points="803.6,78.0 942.0,86.0 803.6,86.0" fill="url(#m334)" stroke="url(#m334)"/><polygon points="803.6,86.0 942.0,86.0 942.0,107.5" fill="url(#m335)" stroke="url(#m335)"/><polygon points="803.6,86.0 942.0,107.5 803.6,107.5" fill="url(#m336)" stroke="url(#m336)"/><polygon points="803.6,107.5 942.0,107.5 942.0,114.0" fill="#000000" stroke="#000000"/><polygon points="803.6,107.5 942.0,114.0 803.6,114.0" fill="#000000" stroke="#000000"/><polygon points="942.0,17.0 948.0,17.0 948.0,23.0" fill="#3d3d3d" stroke="#3d3d3d"/><polygon points="942.0,17.0 948.0,23.0 942.0,23.0" fill="#3d3d3d" stroke="#3d3d3d"/><polygon points="942.0,23.0 948.0,23.0 948.0,40.0" fill="url(#m337)" stroke="url(#m337)"/><polygon points="942.0,23.0 948.0,40.0 942.0,40.0" fill="url(#m338)" stroke="url(#m338)"/><polygon points="942.0,40.0 948.0,40.0 948.0,54.0" fill="url(#m339)" stroke="url(#m339)"/><polygon points="942.0,40.0 948.0,54.0 942.0,54.0" fill="url(#m340)" stroke="url(#m340)"/><polygon points="942.0,54.0 948.0,54.0 948.0,70.0" fill="url(#m341)" stroke="url(#m341)"/><polygon points="942.0,54.0 948.0,70.0 942.0,70.0" fill="url(#m342)" stroke="url(#m342)"/><polygon points="942.0,70.0 948.0,70.0 948.0,78.0" fill="url(#m343)" stroke="url(#m343)"/><polygon points="942.0,70.0 948.0,78.0 942.0,78.0" fill="url(#m344)" stroke="url(#m344)"/><polygon points="942.0,78.0 948.0,78.0 948.0,86.0" fill="url(#m345)" stroke="url(#m345)"/><polygon points="942.0,78.0 948.0,86.0 942.0,86.0" fill="url(#m346)" stroke="url(#m346)"/><polygon points="942.0,86.0 948.0,86.0 948.0,107.5" fill="url(#m347)" stroke="url(#m347)"/><polygon points="942.0,86.0 948.0,107.5 942.0,107.5" fill="url(#m348)" stroke="url(#m348)"/><polygon points="942.0,107.5 948.0,107.5 948.0,114.0" fill="#000000" stroke="#000000"/><polygon points="942.0,107.5 948.0,114.0 942.0,114.0" fill="#000000" stroke="#000000"/></g></g><clipPath id="devclip"><polygon points="25.0,53.5 252.5,53.5 252.5,23.0 942.0,23.0 942.0,53.5 1171.0,53.5 1171.0,186 25.0,186"/></clipPath><filter id="lblur" filterUnits="userSpaceOnUse" x="0" y="0" width="1200" height="200"><feGaussianBlur stdDeviation="0.9"/></filter><filter id="tblur" x="-5%" y="-5%" width="110%" height="110%"><feGaussianBlur stdDeviation="0.9"/></filter><linearGradient id="lba" gradientUnits="userSpaceOnUse" x1="0" y1="421.8" x2="0" y2="705"><stop offset="0.0007" stop-color="#d00000"/><stop offset="0.0219" stop-color="#f02800"/><stop offset="0.0819" stop-color="#e06000"/><stop offset="0.1419" stop-color="#e09000"/><stop offset="0.1879" stop-color="#e0b800"/><stop offset="0.2232" stop-color="#c0c400"/><stop offset="0.2655" stop-color="#60c800"/><stop offset="0.3008" stop-color="#10c000"/><stop offset="0.3644" stop-color="#00b800"/><stop offset="0.4597" stop-color="#00c000"/><stop offset="0.5056" stop-color="#00bc60"/><stop offset="0.5410" stop-color="#00c890"/><stop offset="0.5939" stop-color="#00b8b0"/><stop offset="0.6398" stop-color="#00a4d8"/><stop offset="0.6822" stop-color="#0080c8"/><stop offset="0.7281" stop-color="#0044c0"/><stop offset="0.7811" stop-color="#0010c4"/><stop offset="0.8129" stop-color="#1000c4"/><stop offset="0.8588" stop-color="#4000c0"/><stop offset="0.9117" stop-color="#8000c0"/><stop offset="0.9541" stop-color="#b000b8"/><stop offset="0.9823" stop-color="#e000b0"/><stop offset="1.0000" stop-color="#f000b0"/></linearGradient><pattern id="lsa" patternUnits="userSpaceOnUse" x="0" y="421.8" width="10" height="5.6"><rect x="0" y="3.9999999999999996" width="10" height="1.6" fill="#000" opacity="0.1"/></pattern><linearGradient id="lbc" gradientUnits="userSpaceOnUse" x1="0" y1="1311.2" x2="0" y2="1578.3"><stop offset="0.0000" stop-color="#ff1000"/><stop offset="0.0600" stop-color="#ff4000"/><stop offset="0.1200" stop-color="#ff8800"/><stop offset="0.1800" stop-color="#ffd800"/><stop offset="0.2200" stop-color="#e0f000"/><stop offset="0.2600" stop-color="#90f000"/><stop offset="0.3000" stop-color="#30e800"/><stop offset="0.3600" stop-color="#00dd00"/><stop offset="0.4600" stop-color="#00e820"/><stop offset="0.5200" stop-color="#00f080"/><stop offset="0.5700" stop-color="#00f0c0"/><stop offset="0.6200" stop-color="#00e8f0"/><stop offset="0.6800" stop-color="#00b0ff"/><stop offset="0.7300" stop-color="#0060ff"/><stop offset="0.7800" stop-color="#0010ff"/><stop offset="0.8200" stop-color="#2000ff"/><stop offset="0.8700" stop-color="#7000ff"/><stop offset="0.9100" stop-color="#b000ff"/><stop offset="0.9500" stop-color="#f000ff"/><stop offset="1.0000" stop-color="#ff00e0"/></linearGradient><pattern id="lsc" patternUnits="userSpaceOnUse" x="0" y="1311.2" width="10" height="6.2"><rect x="0" y="4.6" width="10" height="1.6" fill="#000" opacity="0.22"/></pattern><filter id="pblur" filterUnits="userSpaceOnUse" x="1000" y="0" width="1424" height="1784"><feGaussianBlur stdDeviation="0.95"/></filter></defs><g transform="translate(0,0)"><rect x="25.0" y="180" width="1146.0" height="537" fill="#cc00ff"/><g clip-path="url(#devclip)"><g filter="url(#cmA)"><use href="#field"/></g></g><rect x="25.0" y="717" width="1146.0" height="30" fill="#00ff40"/><rect x="252.5" y="107.0" width="689.5" height="7.5" fill="#000" opacity="0.3"/><g fill="none" stroke="#000" stroke-width="2.4" opacity="0.6" filter="url(#lblur)"><path d="M25.0,53.5 H252.5 V23.0 H942.0 V53.5 H1171.0"/><path d="M252.5,53.5 V114.0 M942.0,53.5 V114.0"/><path d="M391.4,107.5 V54.0 H803.6 V107.5"/><path d="M252.5,107.5 H942.0"/><path d="M25.0,114.0 H1171.0"/></g><path d="M25.0,717 H1171.0" fill="none" stroke="#004040" stroke-width="1.8" opacity="0.5"/><path d="M25.0,746.2 H1171.0" fill="none" stroke="#004000" stroke-width="2.2" opacity="0.6"/></g><g transform="translate(0,877)"><rect x="25.0" y="180" width="1146.0" height="546" fill="#ff5500"/><g clip-path="url(#devclip)"><g filter="url(#cmC)"><use href="#field"/></g></g><rect x="25.0" y="726" width="1146.0" height="27.700000000000045" fill="#00ff10"/><rect x="252.5" y="107.0" width="689.5" height="7.5" fill="#000" opacity="0.3"/><g fill="none" stroke="#000" stroke-width="2.4" opacity="0.6" filter="url(#lblur)"><path d="M25.0,53.5 H252.5 V23.0 H942.0 V53.5 H1171.0"/><path d="M252.5,53.5 V114.0 M942.0,53.5 V114.0"/><path d="M391.4,107.5 V54.0 H803.6 V107.5"/><path d="M252.5,107.5 H942.0"/><path d="M25.0,114.0 H1171.0"/></g><path d="M25.0,726.5 H1171.0" fill="none" stroke="#80ffc0" stroke-width="1.4" opacity="0.5"/><path d="M25.0,753.1 H1171.0" fill="none" stroke="#003000" stroke-width="1.5" opacity="0.4" stroke-dasharray="10 19"/><rect x="24.0" y="50" width="2.3" height="705.7" fill="#fff"/></g><rect x="25.0" y="371" width="356.8" height="346" fill="#fff"/><g filter="url(#tblur)"><rect x="31" y="421.8" width="149.8" height="283.2" fill="url(#lba)"/><rect x="31" y="421.8" width="149.8" height="283.2" fill="url(#lsa)"/></g><g filter="url(#tblur)" fill="#111"><text x="115.6" y="406.5" font-size="30" textLength="192" lengthAdjust="spacingAndGlyphs">Net Doping /cm</text><text x="311.6" y="395.7" font-size="18.6">3</text><text transform="translate(193.0,456.5) scale(0.92,1)" font-size="29">1</text><text transform="translate(208.7,456.5) scale(0.92,1)" font-size="29">×</text><text transform="translate(227.0,456.5) scale(0.92,1)" font-size="29">10</text><text transform="translate(254.5,446.9) scale(0.92,1)" font-size="16">15</text><text transform="translate(282.0,456.5) scale(0.92,1)" font-size="29">(n-type)</text><text transform="translate(193.0,491.5) scale(0.92,1)" font-size="29">1</text><text transform="translate(208.7,491.5) scale(0.92,1)" font-size="29">×</text><text transform="translate(227.0,491.5) scale(0.92,1)" font-size="29">10</text><text transform="translate(254.5,481.9) scale(0.92,1)" font-size="16">10</text><text transform="translate(282.0,491.5) scale(0.92,1)" font-size="29">(n-type)</text><text transform="translate(193.0,526.0) scale(0.92,1)" font-size="29">1</text><text transform="translate(208.7,526.0) scale(0.92,1)" font-size="29">×</text><text transform="translate(227.0,526.0) scale(0.92,1)" font-size="29">10</text><text transform="translate(254.5,516.4) scale(0.92,1)" font-size="16">5</text><text transform="translate(282.0,526.0) scale(0.92,1)" font-size="29">(n-type)</text><text transform="translate(199.5,561.0) scale(0.92,1)" font-size="25">0</text><text transform="translate(193.0,596.0) scale(0.92,1)" font-size="29">1</text><text transform="translate(210.4,596.0) scale(0.92,1)" font-size="29">×</text><text transform="translate(231.2,596.0) scale(0.92,1)" font-size="29">10</text><text transform="translate(258.7,586.4) scale(0.92,1)" font-size="16">5</text><text transform="translate(282.0,596.0) scale(0.92,1)" font-size="29">(p-type)</text><text transform="translate(193.0,631.5) scale(0.92,1)" font-size="29">1</text><text transform="translate(210.4,631.5) scale(0.92,1)" font-size="29">×</text><text transform="translate(231.2,631.5) scale(0.92,1)" font-size="29">10</text><text transform="translate(258.7,621.9) scale(0.92,1)" font-size="16">10</text><text transform="translate(282.0,631.5) scale(0.92,1)" font-size="29">(p-type)</text><text transform="translate(193.0,667.0) scale(0.92,1)" font-size="29">1</text><text transform="translate(210.4,667.0) scale(0.92,1)" font-size="29">×</text><text transform="translate(231.2,667.0) scale(0.92,1)" font-size="29">10</text><text transform="translate(258.7,657.4) scale(0.92,1)" font-size="16">15</text><text transform="translate(282.0,667.0) scale(0.92,1)" font-size="29">(p-type)</text><text transform="translate(193.0,702.5) scale(0.92,1)" font-size="29">1</text><text transform="translate(210.4,702.5) scale(0.92,1)" font-size="29">×</text><text transform="translate(231.2,702.5) scale(0.92,1)" font-size="29">10</text><text transform="translate(258.7,692.9) scale(0.92,1)" font-size="16">20</text><text transform="translate(282.0,702.5) scale(0.92,1)" font-size="29">(p-type)</text></g><rect x="25.0" y="1245.2" width="364.3" height="358.29999999999995" fill="#fff"/><g filter="url(#tblur)"><rect x="52.2" y="1311.2" width="127.8" height="267.0999999999999" fill="url(#lbc)"/><rect x="52.2" y="1311.2" width="127.8" height="267.0999999999999" fill="url(#lsc)"/></g><g filter="url(#tblur)" fill="#111"><text x="112.2" y="1290" font-size="31" textLength="194" lengthAdjust="spacingAndGlyphs">Net Doping /cm</text><text x="310.2" y="1278.8" font-size="19.2">3</text><text transform="translate(192.1,1343.4) scale(0.92,1)" font-size="29">1</text><text transform="translate(207.8,1343.4) scale(0.92,1)" font-size="29">×</text><text transform="translate(226.1,1343.4) scale(0.92,1)" font-size="29">10</text><text transform="translate(253.6,1333.8) scale(0.92,1)" font-size="16">15</text><text transform="translate(281.1,1343.4) scale(0.92,1)" font-size="29">(n-type)</text><text transform="translate(192.1,1376.4) scale(0.92,1)" font-size="29">1</text><text transform="translate(207.8,1376.4) scale(0.92,1)" font-size="29">×</text><text transform="translate(226.1,1376.4) scale(0.92,1)" font-size="29">10</text><text transform="translate(253.6,1366.8) scale(0.92,1)" font-size="16">10</text><text transform="translate(281.1,1376.4) scale(0.92,1)" font-size="29">(n-type)</text><text transform="translate(192.1,1409.8) scale(0.92,1)" font-size="29">1</text><text transform="translate(207.8,1409.8) scale(0.92,1)" font-size="29">×</text><text transform="translate(226.1,1409.8) scale(0.92,1)" font-size="29">10</text><text transform="translate(253.6,1400.2) scale(0.92,1)" font-size="16">5</text><text transform="translate(281.1,1409.8) scale(0.92,1)" font-size="29">(n-type)</text><text transform="translate(198.6,1442.0) scale(0.92,1)" font-size="25">0</text><text transform="translate(192.1,1475.0) scale(0.92,1)" font-size="29">1</text><text transform="translate(209.5,1475.0) scale(0.92,1)" font-size="29">×</text><text transform="translate(230.3,1475.0) scale(0.92,1)" font-size="29">10</text><text transform="translate(257.8,1465.4) scale(0.92,1)" font-size="16">5</text><text transform="translate(281.1,1475.0) scale(0.92,1)" font-size="29">(p-type)</text><text transform="translate(192.1,1508.0) scale(0.92,1)" font-size="29">1</text><text transform="translate(209.5,1508.0) scale(0.92,1)" font-size="29">×</text><text transform="translate(230.3,1508.0) scale(0.92,1)" font-size="29">10</text><text transform="translate(257.8,1498.4) scale(0.92,1)" font-size="16">10</text><text transform="translate(281.1,1508.0) scale(0.92,1)" font-size="29">(p-type)</text><text transform="translate(192.1,1541.5) scale(0.92,1)" font-size="29">1</text><text transform="translate(209.5,1541.5) scale(0.92,1)" font-size="29">×</text><text transform="translate(230.3,1541.5) scale(0.92,1)" font-size="29">10</text><text transform="translate(257.8,1531.9) scale(0.92,1)" font-size="16">15</text><text transform="translate(281.1,1541.5) scale(0.92,1)" font-size="29">(p-type)</text><text transform="translate(192.1,1575.0) scale(0.92,1)" font-size="29">1</text><text transform="translate(209.5,1575.0) scale(0.92,1)" font-size="29">×</text><text transform="translate(230.3,1575.0) scale(0.92,1)" font-size="29">10</text><text transform="translate(257.8,1565.4) scale(0.92,1)" font-size="16">20</text><text transform="translate(281.1,1575.0) scale(0.92,1)" font-size="29">(p-type)</text></g><path transform="translate(0,0)" d="M25.3,53.5 V747 M1170.7,53.5 V747" fill="none" stroke="#000" stroke-width="1.2" opacity="0.28"/><path transform="translate(0,877)" d="M26.7,53.5 V753.7 M1170.7,53.5 V753.7" fill="none" stroke="#000" stroke-width="1.2" opacity="0.28"/><g filter="url(#pblur)"><path d="M1513.3,742.1 v-14 M1675.0,742.1 v-14 M1836.6,742.1 v-14 M1998.3,742.1 v-14 M2159.9,742.1 v-14 M2321.6,742.1 v-14 M1432.0,661.3 h14 M1432.0,579.7 h14 M1432.0,498.0 h14 M1432.0,416.3 h14 M1432.0,334.6 h14 M1432.0,252.9 h14 M1432.0,171.2 h14 M1432.0,91.6 h14" stroke="#1c1c1c" stroke-width="4.8" fill="none"/><path d="M1521.4,662.5 L1602.2,662.5 L1683.0,662.0 L1763.9,657.5 L1844.7,629.4 L1925.5,559.7 L2006.4,471.0 L2087.2,368.5 L2168.0,271.7 L2248.8,177.7 L2321.6,98.6" stroke="#000" stroke-width="4.3" fill="none" stroke-linejoin="round"/><rect x="1513.9" y="655.0" width="15" height="15" fill="#000"/><rect x="1594.7" y="655.0" width="15" height="15" fill="#000"/><rect x="1675.5" y="654.5" width="15" height="15" fill="#000"/><rect x="1756.4" y="650.0" width="15" height="15" fill="#000"/><rect x="1837.2" y="621.9" width="15" height="15" fill="#000"/><rect x="1918.0" y="552.2" width="15" height="15" fill="#000"/><rect x="1998.9" y="463.5" width="15" height="15" fill="#000"/><rect x="2079.7" y="361.0" width="15" height="15" fill="#000"/><rect x="2160.5" y="264.2" width="15" height="15" fill="#000"/><rect x="2241.3" y="170.2" width="15" height="15" fill="#000"/><rect x="2314.1" y="91.1" width="15" height="15" fill="#000"/><path d="M1521.4,662.8 L1602.2,662.8 L1683.0,662.0 L1763.9,657.8 L1844.7,635.0 L1925.5,564.5 L2006.4,458.6 L2087.2,352.9 L2168.0,265.2 L2248.8,185.9 L2321.6,120.5" stroke="#ff0000" stroke-width="4.3" fill="none" stroke-linejoin="round"/><circle cx="1521.4" cy="662.8" r="8.5" fill="#ff0000"/><circle cx="1602.2" cy="662.8" r="8.5" fill="#ff0000"/><circle cx="1683.0" cy="662.0" r="8.5" fill="#ff0000"/><circle cx="1763.9" cy="657.8" r="8.5" fill="#ff0000"/><circle cx="1844.7" cy="635.0" r="8.5" fill="#ff0000"/><circle cx="1925.5" cy="564.5" r="8.5" fill="#ff0000"/><circle cx="2006.4" cy="458.6" r="8.5" fill="#ff0000"/><circle cx="2087.2" cy="352.9" r="8.5" fill="#ff0000"/><circle cx="2168.0" cy="265.2" r="8.5" fill="#ff0000"/><circle cx="2248.8" cy="185.9" r="8.5" fill="#ff0000"/><circle cx="2321.6" cy="120.5" r="8.5" fill="#ff0000"/><rect x="1432.0" y="50.7" width="971.5999999999999" height="691.4" fill="none" stroke="#1c1c1c" stroke-width="4.5" stroke-linejoin="round"/><text transform="translate(1513.3,796.8) scale(1.08,1)" font-size="50" text-anchor="middle" fill="#000" >0.0</text><text transform="translate(1675.0,796.8) scale(1.08,1)" font-size="50" text-anchor="middle" fill="#000" >0.2</text><text transform="translate(1836.6,796.8) scale(1.08,1)" font-size="50" text-anchor="middle" fill="#000" >0.4</text><text transform="translate(1998.3,796.8) scale(1.08,1)" font-size="50" text-anchor="middle" fill="#000" >0.6</text><text transform="translate(2159.9,796.8) scale(1.08,1)" font-size="50" text-anchor="middle" fill="#000" >0.8</text><text transform="translate(2321.6,796.8) scale(1.08,1)" font-size="50" text-anchor="middle" fill="#000" >1.0</text><text transform="translate(1420.5,676.9) scale(1.2,1)" font-size="49" text-anchor="end" fill="#000" >0</text><text transform="translate(1420.5,595.3) scale(1.2,1)" font-size="49" text-anchor="end" fill="#000" >1</text><text transform="translate(1420.5,513.6) scale(1.2,1)" font-size="49" text-anchor="end" fill="#000" >2</text><text transform="translate(1420.5,431.9) scale(1.2,1)" font-size="49" text-anchor="end" fill="#000" >3</text><text transform="translate(1420.5,350.2) scale(1.2,1)" font-size="49" text-anchor="end" fill="#000" >4</text><text transform="translate(1420.5,268.5) scale(1.2,1)" font-size="49" text-anchor="end" fill="#000" >5</text><text transform="translate(1420.5,186.8) scale(1.2,1)" font-size="49" text-anchor="end" fill="#000" >6</text><text transform="translate(1420.5,107.2) scale(1.2,1)" font-size="49" text-anchor="end" fill="#000" >7</text><text transform="translate(1889.0,874.3) scale(1.025,1)" font-size="61" text-anchor="middle" fill="#000" >Gate Voltage(V)</text><text transform="translate(1275.5,405.2) rotate(-90) scale(0.922,1)" font-size="64" text-anchor="middle">Drain Current(µA)</text><path d="M1511.6,125.2 H1629.2" stroke="#151515" stroke-width="4.3"/><rect x="1561.7" y="117.7" width="15" height="15" fill="#151515"/><text x="1640.2" y="142.6" font-size="53" text-anchor="start" fill="#000" letter-spacing="1.5">TCAD</text><path d="M1511.6,186.2 H1629.2" stroke="#ff1010" stroke-width="4.3"/><ellipse cx="1569.2" cy="186.2" rx="6.6" ry="8.6" fill="#ff1010"/><text x="1641.5" y="205.2" font-size="53" text-anchor="start" fill="#000" letter-spacing="0.5">HSPICE</text><text transform="translate(2310.3,695.0) scale(1.05,1)" font-size="63.5" text-anchor="middle" fill="#000" >(b)</text><path d="M1513.3,1623.0 v-14 M1675.0,1623.0 v-14 M1836.6,1623.0 v-14 M1998.3,1623.0 v-14 M2159.9,1623.0 v-14 M2321.6,1623.0 v-14 M1432.0,1004.4 h14 M1432.0,1081.8 h14 M1432.0,1159.2 h14 M1432.0,1236.6 h14 M1432.0,1314.0 h14 M1432.0,1391.4 h14 M1432.0,1468.8 h14 M1432.0,1546.2 h14" stroke="#1c1c1c" stroke-width="4.8" fill="none"/><path d="M1521.4,1557.6 L1602.2,1469.0 L1683.0,1380.8 L1763.9,1291.2 L1844.7,1200.7 L1925.5,1115.4 L2006.4,1044.5 L2087.2,1011.0 L2168.0,1006.6 L2248.8,1006.6 L2329.7,1006.7" stroke="#000" stroke-width="4.3" fill="none" stroke-linejoin="round"/><rect x="1513.9" y="1550.1" width="15" height="15" fill="#000"/><rect x="1594.7" y="1461.5" width="15" height="15" fill="#000"/><rect x="1675.5" y="1373.3" width="15" height="15" fill="#000"/><rect x="1756.4" y="1283.7" width="15" height="15" fill="#000"/><rect x="1837.2" y="1193.2" width="15" height="15" fill="#000"/><rect x="1918.0" y="1107.9" width="15" height="15" fill="#000"/><rect x="1998.9" y="1037.0" width="15" height="15" fill="#000"/><rect x="2079.7" y="1003.5" width="15" height="15" fill="#000"/><rect x="2160.5" y="999.1" width="15" height="15" fill="#000"/><rect x="2241.3" y="999.1" width="15" height="15" fill="#000"/><rect x="2322.2" y="999.2" width="15" height="15" fill="#000"/><path d="M1521.4,1548.7 L1602.2,1482.4 L1683.0,1408.0 L1763.9,1324.5 L1844.7,1231.2 L1925.5,1131.2 L2006.4,1048.6 L2087.2,1014.0 L2168.0,1007.7 L2248.8,1006.9 L2329.7,1006.9" stroke="#ff0000" stroke-width="4.3" fill="none" stroke-linejoin="round"/><circle cx="1521.4" cy="1548.7" r="8.5" fill="#ff0000"/><circle cx="1602.2" cy="1482.4" r="8.5" fill="#ff0000"/><circle cx="1683.0" cy="1408.0" r="8.5" fill="#ff0000"/><circle cx="1763.9" cy="1324.5" r="8.5" fill="#ff0000"/><circle cx="1844.7" cy="1231.2" r="8.5" fill="#ff0000"/><circle cx="1925.5" cy="1131.2" r="8.5" fill="#ff0000"/><circle cx="2006.4" cy="1048.6" r="8.5" fill="#ff0000"/><circle cx="2087.2" cy="1014.0" r="8.5" fill="#ff0000"/><circle cx="2168.0" cy="1007.7" r="8.5" fill="#ff0000"/><circle cx="2248.8" cy="1006.9" r="8.5" fill="#ff0000"/><circle cx="2329.7" cy="1006.9" r="8.5" fill="#ff0000"/><rect x="1432.0" y="927.3" width="971.5999999999999" height="695.7" fill="none" stroke="#1c1c1c" stroke-width="4.5" stroke-linejoin="round"/><text transform="translate(1513.3,1675.8) scale(1.09,1)" font-size="50" text-anchor="middle" fill="#000" ><tspan font-weight="normal" fill="#333">−</tspan>1.0</text><text transform="translate(1675.0,1675.8) scale(1.09,1)" font-size="50" text-anchor="middle" fill="#000" ><tspan font-weight="normal" fill="#333">−</tspan>0.8</text><text transform="translate(1836.6,1675.8) scale(1.09,1)" font-size="50" text-anchor="middle" fill="#000" ><tspan font-weight="normal" fill="#333">−</tspan>0.6</text><text transform="translate(1998.3,1675.8) scale(1.09,1)" font-size="50" text-anchor="middle" fill="#000" ><tspan font-weight="normal" fill="#333">−</tspan>0.4</text><text transform="translate(2159.9,1675.8) scale(1.09,1)" font-size="50" text-anchor="middle" fill="#000" ><tspan font-weight="normal" fill="#333">−</tspan>0.2</text><text transform="translate(2321.6,1675.8) scale(1.09,1)" font-size="50" text-anchor="middle" fill="#000" >0.0</text><text transform="translate(1420.0,1020.0) scale(1.11,1)" font-size="49" text-anchor="end" fill="#000" >0.0</text><text transform="translate(1420.0,1097.4) scale(1.11,1)" font-size="49" text-anchor="end" fill="#000" ><tspan font-weight="normal" fill="#333">−</tspan>0.5</text><text transform="translate(1420.0,1174.8) scale(1.11,1)" font-size="49" text-anchor="end" fill="#000" ><tspan font-weight="normal" fill="#333">−</tspan>1.0</text><text transform="translate(1420.0,1252.2) scale(1.11,1)" font-size="49" text-anchor="end" fill="#000" ><tspan font-weight="normal" fill="#333">−</tspan>1.5</text><text transform="translate(1420.0,1329.6) scale(1.11,1)" font-size="49" text-anchor="end" fill="#000" ><tspan font-weight="normal" fill="#333">−</tspan>2.0</text><text transform="translate(1420.0,1407.0) scale(1.11,1)" font-size="49" text-anchor="end" fill="#000" ><tspan font-weight="normal" fill="#333">−</tspan>2.5</text><text transform="translate(1420.0,1484.4) scale(1.11,1)" font-size="49" text-anchor="end" fill="#000" ><tspan font-weight="normal" fill="#333">−</tspan>3.0</text><text transform="translate(1420.0,1561.8) scale(1.11,1)" font-size="49" text-anchor="end" fill="#000" ><tspan font-weight="normal" fill="#333">−</tspan>3.5</text><text transform="translate(1889.0,1752.0) scale(1.025,1)" font-size="61" text-anchor="middle" fill="#000" >Gate Voltage(V)</text><text transform="translate(1270,1276) rotate(-90) scale(0.948,1)" font-size="62" text-anchor="middle">Drain Current(µA)</text><path d="M1470,986.4 H1588.5" stroke="#151515" stroke-width="4.3"/><rect x="1520.5" y="978.9" width="15" height="15" fill="#151515"/><text x="1599.2" y="1005.6" font-size="53" text-anchor="start" fill="#000" letter-spacing="1.5">TCAD</text><path d="M1470,1048.8 H1588.5" stroke="#ff1010" stroke-width="4.3"/><ellipse cx="1528.0" cy="1048.8" rx="6.6" ry="8.6" fill="#ff1010"/><text x="1600.5" y="1066.0" font-size="53" text-anchor="start" fill="#000" letter-spacing="0.5">HSPICE</text><text transform="translate(2310.3,1558.2) scale(1.05,1)" font-size="63.5" text-anchor="middle" fill="#000" >(d)</text><text transform="translate(1089.7,662.0) scale(1.067,1)" font-size="62.3" text-anchor="middle" fill="#000" >(a)</text><text transform="translate(1095.1,1558.0) scale(1.07,1)" font-size="62" text-anchor="middle" fill="#000" >(c)</text></g></svg></body></html>
